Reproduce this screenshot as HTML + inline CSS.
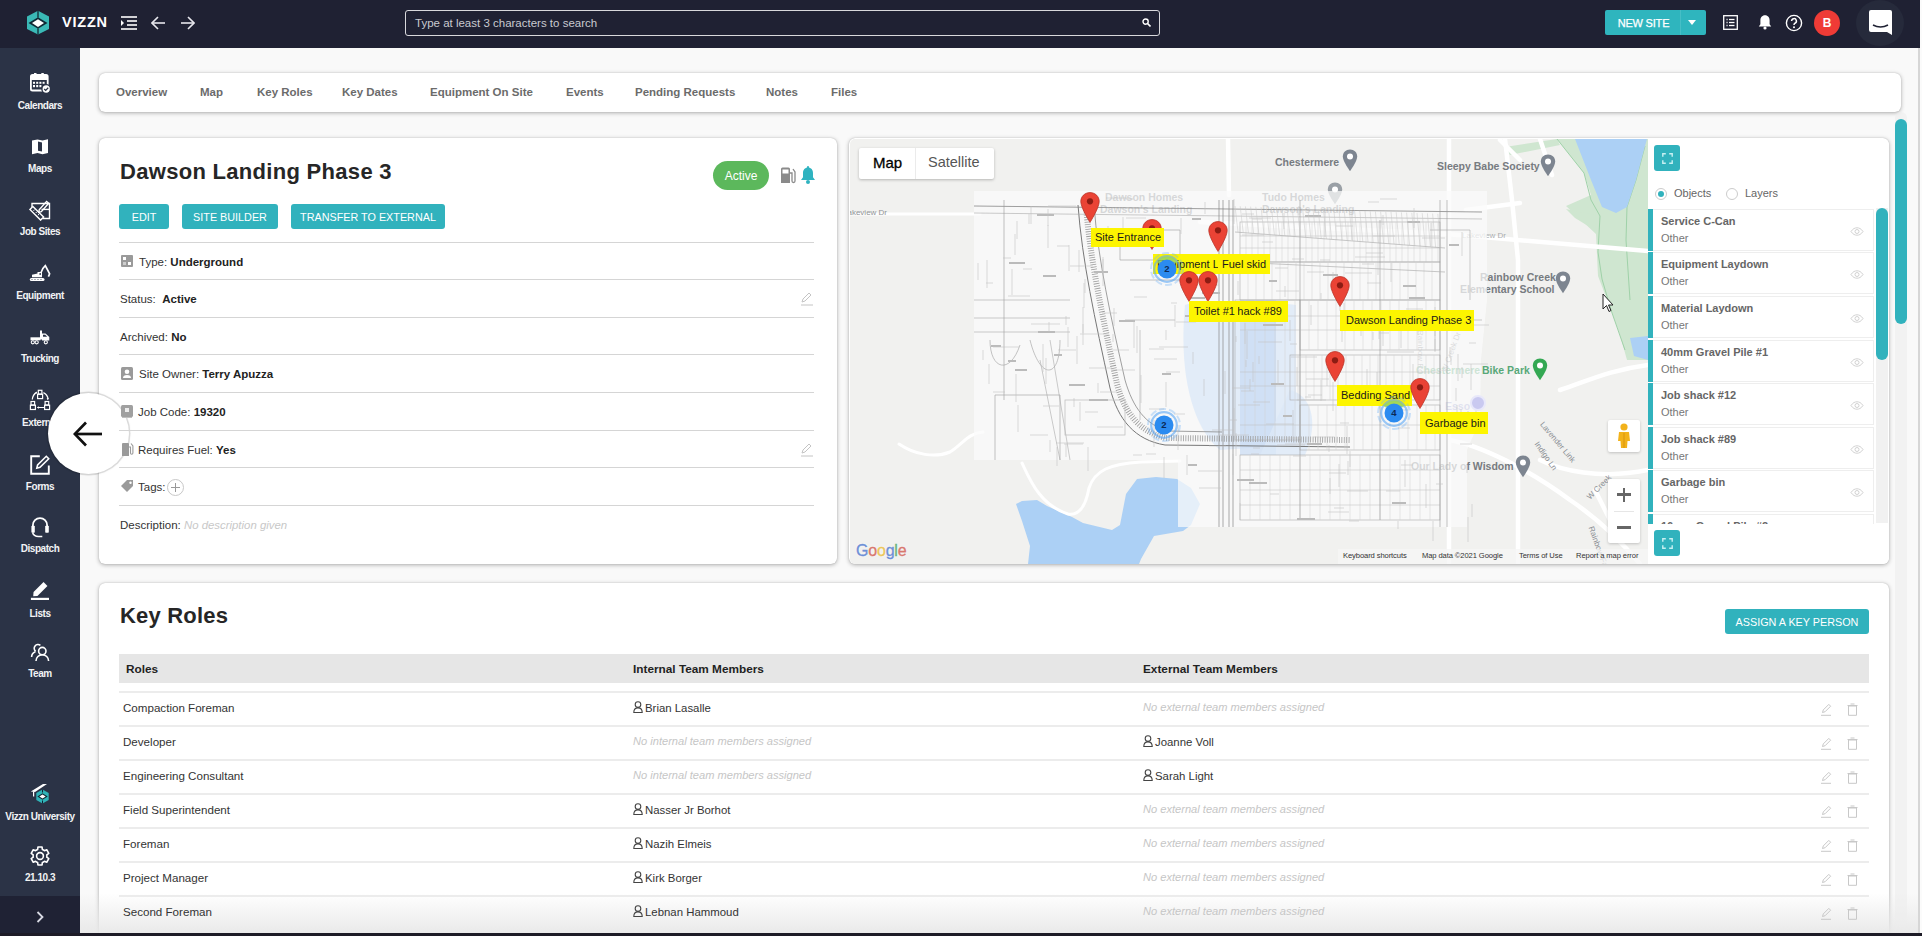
<!DOCTYPE html>
<html><head><meta charset="utf-8">
<style>
*{box-sizing:border-box;margin:0;padding:0}
html,body{width:1922px;height:936px;overflow:hidden;background:#f9f9f9;font-family:"Liberation Sans",sans-serif;color:#333}
.abs{position:absolute}
#top{position:absolute;left:0;top:0;width:1922px;height:48px;background:#1f2133}
#side{position:absolute;left:0;top:48px;width:80px;height:888px;background:#2b3346}
#sidebot{position:absolute;left:0;top:896px;width:80px;height:40px;background:#1f2234}
.sitem{position:absolute;left:0;width:80px;text-align:center;color:#f2f3f5;font-weight:bold;font-size:10px;letter-spacing:-0.45px}
.sitem svg{display:block;margin:0 auto}
.card{position:absolute;background:#fff;border-radius:6px;box-shadow:0 1px 4px rgba(0,0,0,.3),0 0 1px rgba(0,0,0,.25)}
.tab{position:absolute;top:86px;font-size:11.5px;font-weight:bold;color:#6b6b6b}
.btn{position:absolute;background:#31b2bd;color:#fff;font-size:11px;text-align:center;border-radius:3px;line-height:27px;height:25px;overflow:hidden}
.hr{position:absolute;left:119px;width:695px;height:1px;background:#d5d5d5}
.row{position:absolute;left:119px;font-size:11.5px;color:#333}
.row b{color:#222}
.ylab{background:#fdf500;font-size:11px;color:#1a1a1a;white-space:nowrap;overflow:hidden}
</style></head>
<body>
<div id="top">
  <!-- logo -->
  <svg class="abs" style="left:26px;top:10px" width="24" height="26" viewBox="0 0 24 26">
    <polygon points="12,0.8 23,6.5 23,19 12,24.6 1,19 1,6.5" fill="#3ab9b6"/>
    <path d="M12 0.8V7.5M12 18.4V24.6" stroke="#0f2a35" stroke-width="1.3"/>
    <polygon points="2.5,13 12,7.3 21.5,13 12,18.7" fill="#0f2a35"/>
    <polygon points="6,13 12,9.3 18,13 12,16.9" fill="#fff"/>
  </svg>
  <div class="abs" style="left:62px;top:14px;font-size:14.5px;font-weight:bold;color:#fff;letter-spacing:0.8px">VIZZN</div>
  <svg class="abs" style="left:121px;top:16px" width="16" height="14" viewBox="0 0 16 14" stroke="#fff" stroke-width="1.6" fill="none">
    <line x1="0" y1="1" x2="16" y2="1"/><line x1="6" y1="5" x2="16" y2="5"/><line x1="6" y1="9" x2="16" y2="9"/><line x1="0" y1="13" x2="16" y2="13"/>
    <polygon points="0,4 3,7 0,10" fill="#fff" stroke="none"/>
  </svg>
  <svg class="abs" style="left:151px;top:16px" width="15" height="14" viewBox="0 0 15 14" stroke="#e8e8ee" stroke-width="1.6" fill="none">
    <line x1="1" y1="7" x2="14" y2="7"/><polyline points="7,1 1,7 7,13"/>
  </svg>
  <svg class="abs" style="left:180px;top:16px" width="15" height="14" viewBox="0 0 15 14" stroke="#e8e8ee" stroke-width="1.6" fill="none">
    <line x1="1" y1="7" x2="14" y2="7"/><polyline points="8,1 14,7 8,13"/>
  </svg>
  <!-- search -->
  <div class="abs" style="left:405px;top:10px;width:755px;height:26px;border:1px solid #d8d8dc;border-radius:3px"></div>
  <div class="abs" style="left:415px;top:17px;font-size:11.5px;color:#c9cad0">Type at least 3 characters to search</div>
  <svg class="abs" style="left:1142px;top:18px" width="9" height="9" viewBox="0 0 9 9"><circle cx="3.6" cy="3.6" r="2.6" stroke="#fff" stroke-width="1.4" fill="none"/><line x1="5.5" y1="5.5" x2="8.5" y2="8.5" stroke="#fff" stroke-width="1.6"/></svg>
  <!-- new site -->
  <div class="abs" style="left:1605px;top:10px;width:101px;height:25px;background:#2fb5be;border-radius:2px"></div>
  <div class="abs" style="left:1680px;top:10px;width:1px;height:25px;background:#46bec6"></div>
  <div class="abs" style="left:1606px;top:17px;width:75px;text-align:center;font-size:11px;color:#fff;letter-spacing:-0.2px;-webkit-text-stroke:0.25px #fff">NEW SITE</div>
  <svg class="abs" style="left:1688px;top:20px" width="8" height="5"><polygon points="0,0 8,0 4,5" fill="#fff"/></svg>
  <!-- list icon -->
  <svg class="abs" style="left:1723px;top:15px" width="15" height="15" viewBox="0 0 15 15" fill="none" stroke="#fff" stroke-width="1.3">
    <rect x="0.7" y="0.7" width="13.6" height="13.6"/>
    <line x1="6" y1="4.5" x2="11.5" y2="4.5"/><line x1="6" y1="7.5" x2="11.5" y2="7.5"/><line x1="6" y1="10.5" x2="11.5" y2="10.5"/>
    <line x1="3.5" y1="4.5" x2="4.6" y2="4.5"/><line x1="3.5" y1="7.5" x2="4.6" y2="7.5"/><line x1="3.5" y1="10.5" x2="4.6" y2="10.5"/>
  </svg>
  <!-- bell -->
  <svg class="abs" style="left:1758px;top:14px" width="14" height="16" viewBox="0 0 14 16"><path d="M7 1.2c-3 0-4.6 2.4-4.6 5v4L0.8 12.5h12.4L11.6 10.2v-4c0-2.6-1.6-5-4.6-5z" fill="#fff"/><circle cx="7" cy="14" r="1.6" fill="#fff"/></svg>
  <!-- help -->
  <svg class="abs" style="left:1785px;top:14px" width="18" height="18" viewBox="0 0 18 18"><circle cx="9" cy="9" r="7.6" stroke="#fff" stroke-width="1.4" fill="none"/><path d="M6.6 7a2.4 2.4 0 1 1 3.4 2.2c-.8.4-1 .9-1 1.8" stroke="#fff" stroke-width="1.5" fill="none"/><circle cx="9" cy="13.3" r="1" fill="#fff"/></svg>
  <!-- avatar -->
  <div class="abs" style="left:1814px;top:10px;width:26px;height:26px;border-radius:50%;background:#ef3b36;color:#fff;font-size:12px;font-weight:bold;text-align:center;line-height:26px">B</div>
  <!-- chat -->
  <div class="abs" style="left:1856px;top:0px;width:48px;height:46px;border-radius:50%;background:#262a3b"></div>
  <svg class="abs" style="left:1869px;top:10px" width="23" height="25" viewBox="0 0 23 25"><path d="M2 0h19a2 2 0 0 1 2 2v23l-5-3H2a2 2 0 0 1-2-2V2a2 2 0 0 1 2-2z" fill="#fff"/><path d="M4 15q7.5 4 15 0" stroke="#1f2133" stroke-width="1.5" fill="none"/></svg>
</div>

<div id="side"></div>
<div id="sidebot"></div>

<!-- sidebar items -->
<svg class="abs" style="left:30px;top:72px" width="20" height="21" viewBox="0 0 20 21">
 <rect x="0.9" y="3" width="16.8" height="15.5" rx="1.6" fill="none" stroke="#fff" stroke-width="1.8"/>
 <rect x="0.9" y="3" width="16.8" height="5" rx="1" fill="#fff"/>
 <rect x="4" y="1" width="2.5" height="3" fill="#fff"/><rect x="11.3" y="1" width="2.5" height="3" fill="#fff"/>
 <g fill="#fff"><rect x="3" y="9.8" width="2" height="2"/><rect x="6.2" y="9.8" width="2" height="2"/><rect x="9.4" y="9.8" width="2" height="2"/><rect x="12.6" y="9.8" width="2" height="2"/><rect x="3" y="13" width="2" height="2.2"/><rect x="6.2" y="13" width="2" height="2.2"/><rect x="9.4" y="13" width="2" height="2.2"/></g>
 <circle cx="16.2" cy="17" r="4.3" fill="#fff" stroke="#2b3346" stroke-width="1.3"/>
 <polyline points="14.2,17 15.7,18.4 18.2,15.8" fill="none" stroke="#2b3346" stroke-width="1.3"/>
</svg>
<div class="sitem" style="top:100px">Calendars</div>
<svg class="abs" style="left:32px;top:139px" width="16" height="16" viewBox="0 0 16 16">
 <path d="M0 1.5L5.5 0.6 10.5 1.6 16 0.2V14L10.5 15.2 5.5 14 0 15.2Z" fill="#fff"/>
 <path d="M6 2.6L10 3.4V12.6L6 11.8Z" fill="#2b3346"/>
</svg>
<div class="sitem" style="top:163px">Maps</div>
<svg class="abs" style="left:29px;top:199px" width="22" height="22" viewBox="0 0 22 22" fill="none" stroke="#fff" stroke-width="1.4">
 <path d="M3 8.5V4.5h17.5v15H13.5"/>
 <path d="M0.9 10.4L3.9 7.4 14.6 18.1 11.6 21.1Z" fill="#2b3346"/>
 <path d="M4.5 11.8l1.2-1.2M6.7 14l1.2-1.2M8.9 16.2l1.2-1.2" stroke-width="1"/>
 <path d="M10.2 10.8L17.6 2.4 19.7 4.3 12.3 12.6 9.8 13.3Z"/>
 <path d="M12.5 10.4H20"/>
</svg>
<div class="sitem" style="top:226px">Job Sites</div>
<svg class="abs" style="left:29px;top:264px" width="22" height="18" viewBox="0 0 22 18">
 <rect x="0.8" y="13.9" width="14.7" height="3.2" rx="1.5" fill="#fff"/>
 <path d="M3 10.8L8.5 9.6V8H13V13.3H3Z" fill="#fff"/>
 <rect x="10.4" y="9.2" width="1.6" height="1.6" fill="#2b3346"/>
 <path d="M12 8.6C12.8 5.6 14 3.6 16.3 1.6L20.6 9.8 19.4 12.6" fill="none" stroke="#fff" stroke-width="1.7"/>
 <g fill="#2b3346"><circle cx="3" cy="15.5" r=".5"/><circle cx="6" cy="15.5" r=".5"/><circle cx="9" cy="15.5" r=".5"/><circle cx="12" cy="15.5" r=".5"/></g>
</svg>
<div class="sitem" style="top:290px">Equipment</div>
<svg class="abs" style="left:30px;top:330px" width="20" height="15" viewBox="0 0 20 15">
 <rect x="10" y="0.5" width="2" height="9" fill="#fff"/>
 <path d="M12 3.5h3.5l3.8 3.5v3.5H12z" fill="#fff"/>
 <path d="M13 4.8h2.2l2 2H13z" fill="#2b3346"/>
 <rect x="0.5" y="7.3" width="10" height="3" fill="#fff"/>
 <g fill="none" stroke="#fff" stroke-width="1.1"><circle cx="2.8" cy="12.3" r="1.6"/><circle cx="6.7" cy="12.3" r="1.6"/><circle cx="15.8" cy="12.3" r="1.6"/></g>
</svg>
<div class="sitem" style="top:353px">Trucking</div>
<svg class="abs" style="left:29px;top:389px" width="22" height="22" viewBox="0 0 22 22" fill="none" stroke="#fff" stroke-width="1.2">
 <rect x="9.3" y="1.3" width="3.6" height="3.8"/><rect x="8.6" y="5.3" width="5" height="4.3"/>
 <rect x="2" y="12.5" width="3.6" height="3.5"/><rect x="1.4" y="16.2" width="5" height="4.3"/>
 <rect x="16.1" y="12.5" width="3.6" height="3.5"/><rect x="15.6" y="16.2" width="5" height="4.3"/>
 <path d="M3.3 10.5Q3.8 5.5 7.6 3.4M14.4 3.6Q18.5 5.5 19.2 10.3M15 18.5H8.4"/>
 <path d="M7.8 2.4l0.3 2.2-2-0.4zM19.9 9.6l-1.7 1.3-0.4-2zM8 18.5l2-1.2v2.4z" fill="#fff" stroke="none"/>
</svg>
<div class="sitem" style="top:417px">External</div>
<svg class="abs" style="left:30px;top:455px" width="20" height="20" viewBox="0 0 20 20" fill="none" stroke="#fff" stroke-width="1.9">
 <path d="M9.8 1.2H1.2V18.8H18.8V10.4"/>
 <path d="M6.8 13.2L7.6 10 16.3 1.3 18.7 3.7 10 12.4Z" stroke-width="1.6"/>
</svg>
<div class="sitem" style="top:481px">Forms</div>
<svg class="abs" style="left:30px;top:516px" width="20" height="22" viewBox="0 0 20 22" fill="none" stroke="#fff">
 <path d="M2.9 11V9.2a7.1 7.1 0 0 1 14.2 0V11" stroke-width="1.8"/>
 <rect x="1.4" y="9.8" width="3.4" height="7" rx="0.8" fill="#fff" stroke="none"/>
 <rect x="15.2" y="9.8" width="3.6" height="7" rx="0.8" fill="#fff" stroke="none"/>
 <path d="M2.6 16.5Q3.6 20.4 8.5 20.4H12.3" stroke-width="1.5"/>
</svg>
<div class="sitem" style="top:543px">Dispatch</div>
<svg class="abs" style="left:30px;top:581px" width="20" height="20" viewBox="0 0 20 20">
 <path d="M13.56 1.06L17.44 4.94 7.44 14.94 3.2 15.3 3.56 11.06Z" fill="#fff"/>
 <rect x="0.9" y="16.8" width="18.1" height="2.2" fill="#fff"/>
</svg>
<div class="sitem" style="top:608px">Lists</div>
<svg class="abs" style="left:30px;top:642px" width="20" height="20" viewBox="0 0 20 20" fill="none" stroke="#fff" stroke-width="1.6">
 <circle cx="12.3" cy="9.1" r="3.7"/>
 <path d="M6 19a6.3 6.3 0 0 1 12.6 0"/>
 <path d="M10.4 3.4A3.6 3.6 0 1 0 5.6 9.3"/>
 <path d="M5.4 9.8A5.6 5.6 0 0 0 1.6 15"/>
</svg>
<div class="sitem" style="top:668px">Team</div>
<svg class="abs" style="left:30px;top:783px" width="20" height="21" viewBox="0 0 20 21">
 <polygon points="12.5,6.5 18.7,10 18.7,17 12.5,20.6 6.3,17 6.3,10" fill="#2fb3b7"/>
 <path d="M12.5 6.5V9.5M12.5 17.5V20.6" stroke="#123" stroke-width="1"/>
 <polygon points="7.3,13.5 12.5,10.3 17.7,13.5 12.5,16.7" fill="#0f2a35"/>
 <polygon points="9.3,13.5 12.5,11.6 15.7,13.5 12.5,15.4" fill="#fff"/>
 <polygon points="0.8,8.5 13,1 17,1 5,9" fill="#fff"/>
 <path d="M3.6 8.5v5" stroke="#fff" stroke-width="1.2"/>
</svg>
<div class="sitem" style="top:811px">Vizzn University</div>
<svg class="abs" style="left:30px;top:846px" width="20" height="20" viewBox="0 0 20 20" fill="none" stroke="#fff" stroke-width="1.6">
 <path d="M6.55 4.02 L7.64 3.52 L7.93 1.04 L12.07 1.04 L12.36 3.52 L13.45 4.02 L14.44 4.71 L16.73 3.73 L18.80 7.31 L16.80 8.80 L16.90 10.00 L16.80 11.20 L18.80 12.69 L16.73 16.27 L14.44 15.29 L13.45 15.98 L12.36 16.48 L12.07 18.96 L7.93 18.96 L7.64 16.48 L6.55 15.98 L5.56 15.29 L3.27 16.27 L1.20 12.69 L3.20 11.20 L3.10 10.00 L3.20 8.80 L1.20 7.31 L3.27 3.73 L5.56 4.71Z" stroke-linejoin="round"/>
 <circle cx="10" cy="10" r="3.4"/>
</svg>
<div class="sitem" style="top:872px">21.10.3</div>
<svg class="abs" style="left:36px;top:911px" width="8" height="12" viewBox="0 0 8 12"><polyline points="1.5,1 6.5,6 1.5,11" fill="none" stroke="#d8dae3" stroke-width="1.8"/></svg>

<!-- tabs card -->
<div class="card" style="left:99px;top:73px;width:1802px;height:39px"></div>
<div class="tab" style="left:116px">Overview</div>
<div class="tab" style="left:200px">Map</div>
<div class="tab" style="left:257px">Key Roles</div>
<div class="tab" style="left:342px">Key Dates</div>
<div class="tab" style="left:430px">Equipment On Site</div>
<div class="tab" style="left:566px">Events</div>
<div class="tab" style="left:635px">Pending Requests</div>
<div class="tab" style="left:766px">Notes</div>
<div class="tab" style="left:831px">Files</div>

<!-- left card -->
<div class="card" style="left:99px;top:138px;width:738px;height:426px"></div>
<!-- back circle -->
<div class="abs" style="left:48px;top:393px;width:81px;height:81px;border-radius:50%;background:#fff;box-shadow:0 0 0 1.5px rgba(0,0,0,.1),0 0 3px rgba(0,0,0,.15)"></div>
<svg class="abs" style="left:73px;top:421px" width="30" height="26" viewBox="0 0 30 26" fill="none" stroke="#111" stroke-width="2.7"><path d="M29 13H2"/><path d="M13 1.5L1.8 13 13 24.5"/></svg>

<!-- left card content -->
<div class="abs" style="left:120px;top:159px;font-size:22px;font-weight:bold;color:#262626;letter-spacing:0.3px">Dawson Landing Phase 3</div>
<div class="abs" style="left:713px;top:161px;width:56px;height:29px;border-radius:15px;background:#5cb85c;color:#fff;font-size:12px;text-align:center;line-height:31px">Active</div>
<svg class="abs" style="left:780px;top:167px" width="17" height="17" viewBox="0 0 17 17">
 <path d="M1 2a1.5 1.5 0 0 1 1.5-1.5h6A1.5 1.5 0 0 1 10 2v14H1z" fill="#8a8a8a"/>
 <rect x="2.5" y="2.5" width="6" height="4" fill="#fff"/>
 <path d="M10 6h2v8a1.5 1.5 0 0 0 3 0V5l-2-3" fill="none" stroke="#8a8a8a" stroke-width="1.3"/>
</svg>
<svg class="abs" style="left:800px;top:166px" width="16" height="19" viewBox="0 0 16 19">
 <path d="M8 1.5c-3.2 0-5 2.5-5 5.4v4.4L1 14h14l-2-2.7V6.9c0-2.9-1.8-5.4-5-5.4z" fill="#2fb3c0"/>
 <circle cx="8" cy="16" r="2" fill="#2fb3c0"/><rect x="7" y="0" width="2" height="2.5" rx="1" fill="#2fb3c0"/>
</svg>
<div class="btn" style="left:119px;top:204px;width:50px;font-size:10.8px">EDIT</div>
<div class="btn" style="left:182px;top:204px;width:96px;font-size:10.8px">SITE BUILDER</div>
<div class="btn" style="left:291px;top:204px;width:154px;font-size:10.8px">TRANSFER TO EXTERNAL</div>
<div class="hr" style="top:242px"></div>
<div class="hr" style="top:279px"></div>
<div class="hr" style="top:317px"></div>
<div class="hr" style="top:354px"></div>
<div class="hr" style="top:392px"></div>
<div class="hr" style="top:430px"></div>
<div class="hr" style="top:467px"></div>
<div class="hr" style="top:505px"></div>
<svg class="abs" style="left:121px;top:255px" width="12" height="12" viewBox="0 0 12 12"><rect width="12" height="12" rx="1" fill="#9a9a9a"/><rect x="2" y="2" width="3" height="3" fill="#fff"/><rect x="7" y="7" width="3" height="3" fill="#fff"/><rect x="2" y="7" width="3" height="3" fill="#fff" opacity=".5"/></svg>
<div class="row" style="left:139px;top:256px">Type: <b>Underground</b></div>
<div class="row" style="left:120px;top:293px">Status:&nbsp; <b>Active</b></div>
<svg class="abs" style="left:800px;top:292px" width="14" height="14" viewBox="0 0 14 14" fill="none" stroke="#c4c4c4" stroke-width="1"><path d="M2 10l1-3 6-6 2 2-6 6z"/><path d="M1 13h12"/></svg>
<div class="row" style="left:120px;top:331px">Archived: <b>No</b></div>
<svg class="abs" style="left:121px;top:367px" width="12" height="13" viewBox="0 0 12 13"><rect width="12" height="13" rx="1.5" fill="#9a9a9a"/><circle cx="6" cy="4.8" r="2.3" fill="#fff"/><path d="M2 11a4 3 0 0 1 8 0z" fill="#fff"/></svg>
<div class="row" style="left:139px;top:368px">Site Owner: <b>Terry Apuzza</b></div>
<svg class="abs" style="left:121px;top:405px" width="12" height="13" viewBox="0 0 12 13"><rect width="12" height="12" rx="1.5" fill="#a0a0a0"/><rect x="4" y="3" width="4" height="4" fill="#fff" opacity=".8"/><rect x="1" y="12" width="10" height="1" fill="#c0c0c0"/></svg>
<div class="row" style="left:138px;top:406px">Job Code: <b>19320</b></div>
<svg class="abs" style="left:121px;top:442px" width="13" height="14" viewBox="0 0 13 14"><path d="M1 2a1 1 0 0 1 1-1h5a1 1 0 0 1 1 1v12H1z" fill="#9a9a9a"/><path d="M8 5h1.5v6a1.2 1.2 0 0 0 2.4 0V4L10 1.5" fill="none" stroke="#9a9a9a" stroke-width="1.1"/></svg>
<div class="row" style="left:138px;top:444px">Requires Fuel: <b>Yes</b></div>
<svg class="abs" style="left:800px;top:443px" width="14" height="14" viewBox="0 0 14 14" fill="none" stroke="#c4c4c4" stroke-width="1"><path d="M2 10l1-3 6-6 2 2-6 6z"/><path d="M1 13h12"/></svg>
<svg class="abs" style="left:121px;top:480px" width="13" height="13" viewBox="0 0 13 13"><path d="M6 0h6v6l-6 6-6-6z" fill="#9a9a9a"/><circle cx="9.5" cy="2.8" r="1.2" fill="#fff"/></svg>
<div class="row" style="left:138px;top:481px">Tags:</div>
<div class="abs" style="left:167px;top:479px;width:17px;height:17px;border-radius:50%;border:1px solid #c8c8c8"></div>
<div class="abs" style="left:171px;top:487px;width:9px;height:1px;background:#999"></div>
<div class="abs" style="left:175px;top:483px;width:1px;height:9px;background:#999"></div>
<div class="row" style="left:120px;top:519px">Description: <i style="color:#c8c8c8;font-size:11.4px">No description given</i></div>
<!-- map card -->
<div class="card" style="left:849px;top:138px;width:1040px;height:426px;overflow:hidden"></div>
<div style="position:absolute;left:0;top:0;width:1922px;height:936px;clip-path:inset(139px 274px 372px 850px round 5px 0 0 5px)">
<svg class="abs" style="left:850px;top:139px" width="798" height="425" viewBox="850 139 798 425">
<rect x="850" y="139" width="798" height="425" fill="#f1f1ef"/>
<path d="M1505 147 L1557 139 L1560 145 L1510 155 Z" fill="#cfe6d0"/><path d="M1557 139 L1584 173 L1591 195 L1566 206 L1596 234 L1598 276 L1611 310 L1620 335 L1627 360 L1648 360 L1648 139 Z" fill="#cfe6d0"/>
<path d="M1566 209 L1600 216 L1598 232 L1575 218 Z" fill="#cfe6d0"/>
<path d="M1557 139 L1584 173 L1591 200 L1600 216 L1598 252 L1602 279 L1611 310 L1625 350" fill="none" stroke="#9fd1a8" stroke-width="1"/>
<path d="M1645 146 L1636 180 L1627 207 L1626 240 L1630 300" fill="none" stroke="#9fd1a8" stroke-width="1"/>
<path d="M1575 139 L1591 180 L1602 207 L1616 213 L1627 207 L1636 180 L1645 146 L1647 139 Z" fill="#acd0f5"/>
<path d="M1630 338 L1648 336 L1648 360 L1634 356 Z" fill="#acd0f5"/>
<path d="M1016 504 L1022 501 L1037 500 L1047 506 L1072 517 L1083 523 L1112 530 L1120 525 L1126 494 L1137 479 L1156 477 L1177 479 L1191 488 L1200 504 L1191 525 L1183 531 L1154 536 L1141 559 L1139 564 L1028 564 L1030 546 L1022 521 Z" fill="#acd0f5"/>
<path d="M850 214 L980 214" fill="none" stroke="#ffffff" stroke-width="3" stroke-linecap="round"/>
<path d="M1200 222 L1447 234 L1648 251" fill="none" stroke="#ffffff" stroke-width="4.5" stroke-linecap="round"/>
<path d="M1449 139 L1449 564" fill="none" stroke="#ffffff" stroke-width="4.5" stroke-linecap="round"/>
<path d="M1505 139 L1512 200 L1518 260 L1518 564" fill="none" stroke="#ffffff" stroke-width="4.5" stroke-linecap="round"/>
<path d="M1228 139 L1229 195" fill="none" stroke="#ffffff" stroke-width="4.5" stroke-linecap="round"/>
<path d="M899 444 C915 455 935 458 950 452 C962 445 968 433 983 432" fill="none" stroke="#ffffff" stroke-width="3" stroke-linecap="round"/>
<path d="M1022 463 C1030 480 1040 505 1068 514 C1080 516 1086 505 1089 488 C1095 470 1110 464 1141 462 L1180 461" fill="none" stroke="#ffffff" stroke-width="3" stroke-linecap="round"/>
<path d="M1449 440 C1480 445 1530 470 1570 500 C1600 520 1620 540 1640 564" fill="none" stroke="#ffffff" stroke-width="4.5" stroke-linecap="round"/>
<path d="M1500 140 L1520 160" fill="none" stroke="#ffffff" stroke-width="4.5" stroke-linecap="round"/>
<path d="M1540 139 L1552 175" fill="none" stroke="#ffffff" stroke-width="4.5" stroke-linecap="round"/>
<path d="M1466 210 L1520 203" fill="none" stroke="#ffffff" stroke-width="4.5" stroke-linecap="round"/>
<path d="M1560 390 C1590 380 1610 370 1648 365" fill="none" stroke="#ffffff" stroke-width="4.5" stroke-linecap="round"/>
<path d="M1540 460 C1560 470 1600 480 1648 470" fill="none" stroke="#ffffff" stroke-width="4.5" stroke-linecap="round"/>
<path d="M1595 490 L1620 540" fill="none" stroke="#ffffff" stroke-width="4.5" stroke-linecap="round"/>
</svg>
<div class="abs" style="left:1275px;top:155px;font-size:10.5px;font-weight:bold;color:#777b80;opacity:1;white-space:nowrap;line-height:14px">Chestermere</div>
<svg class="abs" style="left:1342px;top:149px" width="16" height="23" viewBox="0 0 16 23"><path d="M8 0.5C3.8 0.5 0.8 3.6 0.8 7.6c0 5 7.2 14.6 7.2 14.6s7.2-9.6 7.2-14.6C15.2 3.6 12.2 0.5 8 0.5z" fill="#7d8590"/><circle cx="8" cy="7.6" r="3" fill="#fff"/></svg>
<div class="abs" style="left:1437px;top:159px;font-size:10.5px;font-weight:bold;color:#777b80;opacity:1;white-space:nowrap;line-height:14px">Sleepy Babe Society</div>
<svg class="abs" style="left:1540px;top:154px" width="16" height="23" viewBox="0 0 16 23"><path d="M8 0.5C3.8 0.5 0.8 3.6 0.8 7.6c0 5 7.2 14.6 7.2 14.6s7.2-9.6 7.2-14.6C15.2 3.6 12.2 0.5 8 0.5z" fill="#7d8590"/><circle cx="8" cy="7.6" r="3" fill="#fff"/></svg>
<div class="abs" style="left:1262px;top:190px;font-size:10.5px;font-weight:bold;color:#777b80;opacity:1;white-space:nowrap;line-height:14px">Tudo Homes</div>
<div class="abs" style="left:1262px;top:202px;font-size:10.5px;font-weight:bold;color:#777b80;opacity:1;white-space:nowrap;line-height:14px">Dawson's Landing</div>
<div class="abs" style="left:1105px;top:190px;font-size:10.5px;font-weight:bold;color:#777b80;opacity:1;white-space:nowrap;line-height:14px">Dawson Homes</div>
<div class="abs" style="left:1100px;top:202px;font-size:10.5px;font-weight:bold;color:#777b80;opacity:1;white-space:nowrap;line-height:14px">Dawson's Landing</div>
<svg class="abs" style="left:1327px;top:182px" width="16" height="23" viewBox="0 0 16 23"><path d="M8 0.5C3.8 0.5 0.8 3.6 0.8 7.6c0 5 7.2 14.6 7.2 14.6s7.2-9.6 7.2-14.6C15.2 3.6 12.2 0.5 8 0.5z" fill="#9aa0a6"/><circle cx="8" cy="7.6" r="3" fill="#fff"/></svg>
<div class="abs" style="left:1480px;top:270px;font-size:10.5px;font-weight:bold;color:#777b80;opacity:1;white-space:nowrap;line-height:14px">Rainbow Creek</div>
<div class="abs" style="left:1460px;top:282px;font-size:10.5px;font-weight:bold;color:#777b80;opacity:1;white-space:nowrap;line-height:14px">Elementary School</div>
<svg class="abs" style="left:1555px;top:271px" width="16" height="23" viewBox="0 0 16 23"><path d="M8 0.5C3.8 0.5 0.8 3.6 0.8 7.6c0 5 7.2 14.6 7.2 14.6s7.2-9.6 7.2-14.6C15.2 3.6 12.2 0.5 8 0.5z" fill="#7d8590"/><circle cx="8" cy="7.6" r="3" fill="#fff"/></svg>
<div class="abs" style="left:1416px;top:363px;font-size:10.5px;font-weight:bold;color:#58a878;opacity:1;white-space:nowrap;line-height:14px">Chestermere</div>
<div class="abs" style="left:1482px;top:363px;font-size:10.5px;font-weight:bold;color:#58a878;opacity:1;white-space:nowrap;line-height:14px">Bike Park</div>
<svg class="abs" style="left:1532px;top:358px" width="16" height="23" viewBox="0 0 16 23"><path d="M8 0.5C3.8 0.5 0.8 3.6 0.8 7.6c0 5 7.2 14.6 7.2 14.6s7.2-9.6 7.2-14.6C15.2 3.6 12.2 0.5 8 0.5z" fill="#34a853"/><circle cx="8" cy="7.6" r="3" fill="#fff"/></svg>
<div class="abs" style="left:1445px;top:399px;font-size:10.5px;font-weight:bold;color:#9a9fd0;opacity:1;white-space:nowrap;line-height:14px">Esso</div>
<div class="abs" style="left:1411px;top:459px;font-size:10.5px;font-weight:bold;color:#777b80;opacity:1;white-space:nowrap;line-height:14px">Our Lady of Wisdom</div>
<svg class="abs" style="left:1515px;top:455px" width="16" height="23" viewBox="0 0 16 23"><path d="M8 0.5C3.8 0.5 0.8 3.6 0.8 7.6c0 5 7.2 14.6 7.2 14.6s7.2-9.6 7.2-14.6C15.2 3.6 12.2 0.5 8 0.5z" fill="#7d8590"/><circle cx="8" cy="7.6" r="3" fill="#fff"/></svg>
<div class="abs" style="left:843px;top:206px;font-size:8px;font-weight:normal;color:#777b80;opacity:0.8;white-space:nowrap;line-height:14px">Lakeview Dr</div>
<div class="abs" style="left:1462px;top:229px;font-size:8px;font-weight:normal;color:#777b80;opacity:0.6;white-space:nowrap;line-height:14px">Lakeview Dr</div>
<div class="abs" style="left:1440px;top:370px;font-size:8px;color:#8a8e93;transform:rotate(-70deg);transform-origin:0 0;white-space:nowrap">W Creek Dr</div>
<div class="abs" style="left:1545px;top:420px;font-size:8px;color:#8a8e93;transform:rotate(50deg);transform-origin:0 0;white-space:nowrap">Lavender Link</div>
<div class="abs" style="left:1540px;top:440px;font-size:8px;color:#8a8e93;transform:rotate(55deg);transform-origin:0 0;white-space:nowrap">Indigo Ln</div>
<div class="abs" style="left:1585px;top:495px;font-size:8px;color:#8a8e93;transform:rotate(-45deg);transform-origin:0 0;white-space:nowrap">W Creek</div>
<div class="abs" style="left:1595px;top:525px;font-size:8px;color:#8a8e93;transform:rotate(70deg);transform-origin:0 0;white-space:nowrap">Rainbow Fa</div>
<div class="abs" style="left:1425px;top:330px;font-size:8px;color:#8a8e93;transform:rotate(90deg);transform-origin:0 0;white-space:nowrap">Rainbow Rd</div>
<svg class="abs" style="left:850px;top:139px" width="798" height="425" viewBox="850 139 798 425">
<path d="M974 191 L1487 191 L1487 300 L1481 360 L1480 420 L1467 450 L1467 527 L1178 527 L1178 460 L974 460 Z" fill="#fbfbfb" opacity="0.72"/>
<path d="M1185 305 C1200 300 1260 300 1296 305 L1296 445 L1220 450 C1195 430 1178 380 1185 305 Z" fill="#dce8f7" opacity="0.8"/>
<rect x="1240" y="300" width="36" height="155" fill="#c9dcf3" opacity="0.7"/>
<path d="M1290 390 C1310 395 1320 420 1305 455 L1260 455 Z" fill="#dce8f7" opacity="0.8"/>
<g><path d="M1078 205 C1082 260 1095 320 1110 388 C1118 420 1135 440 1165 445 L1350 447" fill="none" stroke="#777" stroke-width="1"/><path d="M1086 205 C1090 260 1103 318 1117 384 C1125 414 1140 432 1166 438 L1350 440" fill="none" stroke="#9a9a9a" stroke-width="6" stroke-dasharray="0.8 1.6"/><path d="M1094 205 C1098 260 1111 318 1125 380 C1133 408 1146 425 1168 431 L1222 432" fill="none" stroke="#888" stroke-width="0.8"/><path d="M974 206 L1482 212" stroke="#888" stroke-width="0.8"/><path d="M974 213 L1482 219" stroke="#aaa" stroke-width="0.6"/><path d="M1219 200 L1219 527" stroke="#888" stroke-width="0.7"/><path d="M1223 200 L1223 527" stroke="#888" stroke-width="0.7"/><path d="M1229 200 L1229 527" stroke="#888" stroke-width="0.7"/><path d="M1233 200 L1233 527" stroke="#888" stroke-width="0.7"/><path d="M1004 200 L1004 400" stroke="#999" stroke-width="0.6"/><path d="M974 300 L1070 300 M974 318 L1070 318 M974 332 L1070 332" stroke="#aaa" stroke-width="0.6"/><path d="M990 340 C990 370 1010 375 1020 345 M1030 340 C1040 380 1060 380 1060 340" fill="none" stroke="#aaa" stroke-width="0.7"/><path d="M1050 340 L1070 460 M1040 360 L1060 460" stroke="#aaa" stroke-width="0.6"/><path d="M995 395 L1060 395 L1060 460 M995 395 L995 460" fill="none" stroke="#aaa" stroke-width="0.7"/><rect x="1065" y="400" width="60" height="35" fill="none" stroke="#bbb" stroke-width="0.7"/><path d="M1120 230 L1180 230 L1180 260 L1120 260 Z M1130 280 L1200 280" fill="none" stroke="#aaa" stroke-width="0.7"/><path d="M1125 320 L1175 320 M1140 330 L1140 420" stroke="#aaa" stroke-width="0.6"/><rect x="1240" y="222" width="200" height="40" fill="none" stroke="#aaa" stroke-width="0.6"/><path d="M1246.0 222 L1246.0 262" stroke="#d0d0d0" stroke-width="0.5"/><path d="M1252.0 222 L1252.0 262" stroke="#d0d0d0" stroke-width="0.5"/><path d="M1258.0 222 L1258.0 262" stroke="#d0d0d0" stroke-width="0.5"/><path d="M1264.0 222 L1264.0 262" stroke="#d0d0d0" stroke-width="0.5"/><path d="M1270.0 222 L1270.0 262" stroke="#d0d0d0" stroke-width="0.5"/><path d="M1276.0 222 L1276.0 262" stroke="#d0d0d0" stroke-width="0.5"/><path d="M1282.0 222 L1282.0 262" stroke="#d0d0d0" stroke-width="0.5"/><path d="M1288.0 222 L1288.0 262" stroke="#d0d0d0" stroke-width="0.5"/><path d="M1294.0 222 L1294.0 262" stroke="#d0d0d0" stroke-width="0.5"/><path d="M1300.0 222 L1300.0 262" stroke="#d0d0d0" stroke-width="0.5"/><path d="M1306.0 222 L1306.0 262" stroke="#d0d0d0" stroke-width="0.5"/><path d="M1312.0 222 L1312.0 262" stroke="#d0d0d0" stroke-width="0.5"/><path d="M1318.0 222 L1318.0 262" stroke="#d0d0d0" stroke-width="0.5"/><path d="M1324.0 222 L1324.0 262" stroke="#d0d0d0" stroke-width="0.5"/><path d="M1330.0 222 L1330.0 262" stroke="#d0d0d0" stroke-width="0.5"/><path d="M1336.0 222 L1336.0 262" stroke="#d0d0d0" stroke-width="0.5"/><path d="M1342.0 222 L1342.0 262" stroke="#d0d0d0" stroke-width="0.5"/><path d="M1348.0 222 L1348.0 262" stroke="#d0d0d0" stroke-width="0.5"/><path d="M1354.0 222 L1354.0 262" stroke="#d0d0d0" stroke-width="0.5"/><path d="M1360.0 222 L1360.0 262" stroke="#d0d0d0" stroke-width="0.5"/><path d="M1366.0 222 L1366.0 262" stroke="#d0d0d0" stroke-width="0.5"/><path d="M1372.0 222 L1372.0 262" stroke="#d0d0d0" stroke-width="0.5"/><path d="M1378.0 222 L1378.0 262" stroke="#d0d0d0" stroke-width="0.5"/><path d="M1384.0 222 L1384.0 262" stroke="#d0d0d0" stroke-width="0.5"/><path d="M1390.0 222 L1390.0 262" stroke="#d0d0d0" stroke-width="0.5"/><path d="M1396.0 222 L1396.0 262" stroke="#d0d0d0" stroke-width="0.5"/><path d="M1402.0 222 L1402.0 262" stroke="#d0d0d0" stroke-width="0.5"/><path d="M1408.0 222 L1408.0 262" stroke="#d0d0d0" stroke-width="0.5"/><path d="M1414.0 222 L1414.0 262" stroke="#d0d0d0" stroke-width="0.5"/><path d="M1420.0 222 L1420.0 262" stroke="#d0d0d0" stroke-width="0.5"/><path d="M1426.0 222 L1426.0 262" stroke="#d0d0d0" stroke-width="0.5"/><path d="M1432.0 222 L1432.0 262" stroke="#d0d0d0" stroke-width="0.5"/><path d="M1438.0 222 L1438.0 262" stroke="#d0d0d0" stroke-width="0.5"/><rect x="1240" y="262" width="200" height="38" fill="none" stroke="#aaa" stroke-width="0.6"/><path d="M1248.0 262 L1248.0 300" stroke="#d0d0d0" stroke-width="0.5"/><path d="M1256.0 262 L1256.0 300" stroke="#d0d0d0" stroke-width="0.5"/><path d="M1264.0 262 L1264.0 300" stroke="#d0d0d0" stroke-width="0.5"/><path d="M1272.0 262 L1272.0 300" stroke="#d0d0d0" stroke-width="0.5"/><path d="M1280.0 262 L1280.0 300" stroke="#d0d0d0" stroke-width="0.5"/><path d="M1288.0 262 L1288.0 300" stroke="#d0d0d0" stroke-width="0.5"/><path d="M1296.0 262 L1296.0 300" stroke="#d0d0d0" stroke-width="0.5"/><path d="M1304.0 262 L1304.0 300" stroke="#d0d0d0" stroke-width="0.5"/><path d="M1312.0 262 L1312.0 300" stroke="#d0d0d0" stroke-width="0.5"/><path d="M1320.0 262 L1320.0 300" stroke="#d0d0d0" stroke-width="0.5"/><path d="M1328.0 262 L1328.0 300" stroke="#d0d0d0" stroke-width="0.5"/><path d="M1336.0 262 L1336.0 300" stroke="#d0d0d0" stroke-width="0.5"/><path d="M1344.0 262 L1344.0 300" stroke="#d0d0d0" stroke-width="0.5"/><path d="M1352.0 262 L1352.0 300" stroke="#d0d0d0" stroke-width="0.5"/><path d="M1360.0 262 L1360.0 300" stroke="#d0d0d0" stroke-width="0.5"/><path d="M1368.0 262 L1368.0 300" stroke="#d0d0d0" stroke-width="0.5"/><path d="M1376.0 262 L1376.0 300" stroke="#d0d0d0" stroke-width="0.5"/><path d="M1384.0 262 L1384.0 300" stroke="#d0d0d0" stroke-width="0.5"/><path d="M1392.0 262 L1392.0 300" stroke="#d0d0d0" stroke-width="0.5"/><path d="M1400.0 262 L1400.0 300" stroke="#d0d0d0" stroke-width="0.5"/><path d="M1408.0 262 L1408.0 300" stroke="#d0d0d0" stroke-width="0.5"/><path d="M1416.0 262 L1416.0 300" stroke="#d0d0d0" stroke-width="0.5"/><path d="M1424.0 262 L1424.0 300" stroke="#d0d0d0" stroke-width="0.5"/><path d="M1432.0 262 L1432.0 300" stroke="#d0d0d0" stroke-width="0.5"/><rect x="1300" y="300" width="140" height="50" fill="none" stroke="#aaa" stroke-width="0.6"/><path d="M1309.0 300 L1309.0 350" stroke="#d0d0d0" stroke-width="0.5"/><path d="M1318.0 300 L1318.0 350" stroke="#d0d0d0" stroke-width="0.5"/><path d="M1327.0 300 L1327.0 350" stroke="#d0d0d0" stroke-width="0.5"/><path d="M1336.0 300 L1336.0 350" stroke="#d0d0d0" stroke-width="0.5"/><path d="M1345.0 300 L1345.0 350" stroke="#d0d0d0" stroke-width="0.5"/><path d="M1354.0 300 L1354.0 350" stroke="#d0d0d0" stroke-width="0.5"/><path d="M1363.0 300 L1363.0 350" stroke="#d0d0d0" stroke-width="0.5"/><path d="M1372.0 300 L1372.0 350" stroke="#d0d0d0" stroke-width="0.5"/><path d="M1381.0 300 L1381.0 350" stroke="#d0d0d0" stroke-width="0.5"/><path d="M1390.0 300 L1390.0 350" stroke="#d0d0d0" stroke-width="0.5"/><path d="M1399.0 300 L1399.0 350" stroke="#d0d0d0" stroke-width="0.5"/><path d="M1408.0 300 L1408.0 350" stroke="#d0d0d0" stroke-width="0.5"/><path d="M1417.0 300 L1417.0 350" stroke="#d0d0d0" stroke-width="0.5"/><path d="M1426.0 300 L1426.0 350" stroke="#d0d0d0" stroke-width="0.5"/><path d="M1435.0 300 L1435.0 350" stroke="#d0d0d0" stroke-width="0.5"/><rect x="1290" y="355" width="150" height="45" fill="none" stroke="#aaa" stroke-width="0.6"/><path d="M1298.0 355 L1298.0 400" stroke="#d0d0d0" stroke-width="0.5"/><path d="M1306.0 355 L1306.0 400" stroke="#d0d0d0" stroke-width="0.5"/><path d="M1314.0 355 L1314.0 400" stroke="#d0d0d0" stroke-width="0.5"/><path d="M1322.0 355 L1322.0 400" stroke="#d0d0d0" stroke-width="0.5"/><path d="M1330.0 355 L1330.0 400" stroke="#d0d0d0" stroke-width="0.5"/><path d="M1338.0 355 L1338.0 400" stroke="#d0d0d0" stroke-width="0.5"/><path d="M1346.0 355 L1346.0 400" stroke="#d0d0d0" stroke-width="0.5"/><path d="M1354.0 355 L1354.0 400" stroke="#d0d0d0" stroke-width="0.5"/><path d="M1362.0 355 L1362.0 400" stroke="#d0d0d0" stroke-width="0.5"/><path d="M1370.0 355 L1370.0 400" stroke="#d0d0d0" stroke-width="0.5"/><path d="M1378.0 355 L1378.0 400" stroke="#d0d0d0" stroke-width="0.5"/><path d="M1386.0 355 L1386.0 400" stroke="#d0d0d0" stroke-width="0.5"/><path d="M1394.0 355 L1394.0 400" stroke="#d0d0d0" stroke-width="0.5"/><path d="M1402.0 355 L1402.0 400" stroke="#d0d0d0" stroke-width="0.5"/><path d="M1410.0 355 L1410.0 400" stroke="#d0d0d0" stroke-width="0.5"/><path d="M1418.0 355 L1418.0 400" stroke="#d0d0d0" stroke-width="0.5"/><path d="M1426.0 355 L1426.0 400" stroke="#d0d0d0" stroke-width="0.5"/><path d="M1434.0 355 L1434.0 400" stroke="#d0d0d0" stroke-width="0.5"/><rect x="1235" y="300" width="65" height="140" fill="none" stroke="#aaa" stroke-width="0.6"/><path d="M1245.0 300 L1245.0 440" stroke="#d0d0d0" stroke-width="0.5"/><path d="M1255.0 300 L1255.0 440" stroke="#d0d0d0" stroke-width="0.5"/><path d="M1265.0 300 L1265.0 440" stroke="#d0d0d0" stroke-width="0.5"/><path d="M1275.0 300 L1275.0 440" stroke="#d0d0d0" stroke-width="0.5"/><path d="M1285.0 300 L1285.0 440" stroke="#d0d0d0" stroke-width="0.5"/><path d="M1295.0 300 L1295.0 440" stroke="#d0d0d0" stroke-width="0.5"/><rect x="1300" y="405" width="140" height="45" fill="none" stroke="#aaa" stroke-width="0.6"/><path d="M1309.0 405 L1309.0 450" stroke="#d0d0d0" stroke-width="0.5"/><path d="M1318.0 405 L1318.0 450" stroke="#d0d0d0" stroke-width="0.5"/><path d="M1327.0 405 L1327.0 450" stroke="#d0d0d0" stroke-width="0.5"/><path d="M1336.0 405 L1336.0 450" stroke="#d0d0d0" stroke-width="0.5"/><path d="M1345.0 405 L1345.0 450" stroke="#d0d0d0" stroke-width="0.5"/><path d="M1354.0 405 L1354.0 450" stroke="#d0d0d0" stroke-width="0.5"/><path d="M1363.0 405 L1363.0 450" stroke="#d0d0d0" stroke-width="0.5"/><path d="M1372.0 405 L1372.0 450" stroke="#d0d0d0" stroke-width="0.5"/><path d="M1381.0 405 L1381.0 450" stroke="#d0d0d0" stroke-width="0.5"/><path d="M1390.0 405 L1390.0 450" stroke="#d0d0d0" stroke-width="0.5"/><path d="M1399.0 405 L1399.0 450" stroke="#d0d0d0" stroke-width="0.5"/><path d="M1408.0 405 L1408.0 450" stroke="#d0d0d0" stroke-width="0.5"/><path d="M1417.0 405 L1417.0 450" stroke="#d0d0d0" stroke-width="0.5"/><path d="M1426.0 405 L1426.0 450" stroke="#d0d0d0" stroke-width="0.5"/><path d="M1435.0 405 L1435.0 450" stroke="#d0d0d0" stroke-width="0.5"/><rect x="1240" y="455" width="200" height="65" fill="none" stroke="#aaa" stroke-width="0.6"/><path d="M1250.0 455 L1250.0 520" stroke="#d0d0d0" stroke-width="0.5"/><path d="M1260.0 455 L1260.0 520" stroke="#d0d0d0" stroke-width="0.5"/><path d="M1270.0 455 L1270.0 520" stroke="#d0d0d0" stroke-width="0.5"/><path d="M1280.0 455 L1280.0 520" stroke="#d0d0d0" stroke-width="0.5"/><path d="M1290.0 455 L1290.0 520" stroke="#d0d0d0" stroke-width="0.5"/><path d="M1300.0 455 L1300.0 520" stroke="#d0d0d0" stroke-width="0.5"/><path d="M1310.0 455 L1310.0 520" stroke="#d0d0d0" stroke-width="0.5"/><path d="M1320.0 455 L1320.0 520" stroke="#d0d0d0" stroke-width="0.5"/><path d="M1330.0 455 L1330.0 520" stroke="#d0d0d0" stroke-width="0.5"/><path d="M1340.0 455 L1340.0 520" stroke="#d0d0d0" stroke-width="0.5"/><path d="M1350.0 455 L1350.0 520" stroke="#d0d0d0" stroke-width="0.5"/><path d="M1360.0 455 L1360.0 520" stroke="#d0d0d0" stroke-width="0.5"/><path d="M1370.0 455 L1370.0 520" stroke="#d0d0d0" stroke-width="0.5"/><path d="M1380.0 455 L1380.0 520" stroke="#d0d0d0" stroke-width="0.5"/><path d="M1390.0 455 L1390.0 520" stroke="#d0d0d0" stroke-width="0.5"/><path d="M1400.0 455 L1400.0 520" stroke="#d0d0d0" stroke-width="0.5"/><path d="M1410.0 455 L1410.0 520" stroke="#d0d0d0" stroke-width="0.5"/><path d="M1420.0 455 L1420.0 520" stroke="#d0d0d0" stroke-width="0.5"/><path d="M1430.0 455 L1430.0 520" stroke="#d0d0d0" stroke-width="0.5"/><path d="M1240 236 L1440 236" stroke="#bdbdbd" stroke-width="0.5"/><path d="M1240 248 L1440 248" stroke="#bdbdbd" stroke-width="0.5"/><path d="M1240 316 L1440 316" stroke="#bdbdbd" stroke-width="0.5"/><path d="M1240 330 L1440 330" stroke="#bdbdbd" stroke-width="0.5"/><path d="M1240 372 L1440 372" stroke="#bdbdbd" stroke-width="0.5"/><path d="M1240 386 L1440 386" stroke="#bdbdbd" stroke-width="0.5"/><path d="M1240 425 L1440 425" stroke="#bdbdbd" stroke-width="0.5"/><path d="M1240 470 L1440 470" stroke="#bdbdbd" stroke-width="0.5"/><path d="M1240 490 L1440 490" stroke="#bdbdbd" stroke-width="0.5"/><path d="M1240 505 L1440 505" stroke="#bdbdbd" stroke-width="0.5"/><path d="M1300 200 L1300 520 M1380 220 L1380 520 M1440 200 L1440 527 M1447 200 L1447 527" stroke="#999" stroke-width="0.6"/><path d="M1430 230 L1470 230 L1470 300 M1460 320 L1482 320" fill="none" stroke="#aaa" stroke-width="0.6"/><rect x="1139" y="244" width="16" height="2" fill="#bbb"/><rect x="1015" y="369" width="12" height="2" fill="#bbb"/><rect x="1008" y="360" width="8" height="2" fill="#bbb"/><rect x="1192" y="218" width="9" height="2" fill="#bbb"/><rect x="1188" y="464" width="9" height="2" fill="#bbb"/><rect x="1089" y="399" width="19" height="2" fill="#bbb"/><rect x="1263" y="324" width="20" height="2" fill="#bbb"/><rect x="1122" y="242" width="9" height="2" fill="#bbb"/><rect x="1069" y="384" width="16" height="2" fill="#bbb"/><rect x="1162" y="373" width="9" height="2" fill="#bbb"/><rect x="1009" y="262" width="16" height="2" fill="#bbb"/><rect x="1190" y="297" width="15" height="2" fill="#bbb"/><rect x="1202" y="292" width="18" height="2" fill="#bbb"/><rect x="1323" y="274" width="15" height="2" fill="#bbb"/><rect x="1237" y="479" width="17" height="2" fill="#bbb"/><rect x="1038" y="331" width="17" height="2" fill="#bbb"/><rect x="1054" y="354" width="8" height="2" fill="#bbb"/><rect x="1307" y="443" width="15" height="2" fill="#bbb"/><rect x="1409" y="297" width="16" height="2" fill="#bbb"/><rect x="1271" y="383" width="13" height="2" fill="#bbb"/><rect x="1392" y="502" width="14" height="2" fill="#bbb"/><rect x="1305" y="215" width="16" height="2" fill="#bbb"/><rect x="1297" y="518" width="18" height="2" fill="#bbb"/><rect x="1119" y="320" width="16" height="2" fill="#bbb"/><rect x="991" y="345" width="10" height="2" fill="#bbb"/><rect x="1037" y="214" width="17" height="2" fill="#bbb"/><rect x="1043" y="275" width="13" height="2" fill="#bbb"/><rect x="1407" y="221" width="13" height="2" fill="#bbb"/><rect x="1249" y="482" width="18" height="2" fill="#bbb"/><rect x="1403" y="285" width="13" height="2" fill="#bbb"/><rect x="1449" y="244" width="10" height="2" fill="#bbb"/><rect x="1094" y="271" width="14" height="2" fill="#bbb"/><rect x="1269" y="280" width="8" height="2" fill="#bbb"/><rect x="1185" y="315" width="15" height="2" fill="#bbb"/><rect x="1447" y="419" width="14" height="2" fill="#bbb"/><rect x="1283" y="415" width="9" height="2" fill="#bbb"/><path d="M1204 379v17" stroke="#c2c2c2" stroke-width="0.6"/><path d="M1232 388h18" stroke="#c2c2c2" stroke-width="0.6"/><path d="M1293 456h13" stroke="#c2c2c2" stroke-width="0.6"/><path d="M1325 208v29" stroke="#c2c2c2" stroke-width="0.6"/><path d="M1305 397h6" stroke="#c2c2c2" stroke-width="0.6"/><path d="M1242 214h12" stroke="#c2c2c2" stroke-width="0.6"/><path d="M993 347h26" stroke="#c2c2c2" stroke-width="0.6"/><path d="M1238 405h22" stroke="#c2c2c2" stroke-width="0.6"/><path d="M1207 286v30" stroke="#c2c2c2" stroke-width="0.6"/><path d="M1398 428h12" stroke="#c2c2c2" stroke-width="0.6"/><path d="M1123 217v16" stroke="#c2c2c2" stroke-width="0.6"/><path d="M1401 322v26" stroke="#c2c2c2" stroke-width="0.6"/><path d="M978 263v17" stroke="#c2c2c2" stroke-width="0.6"/><path d="M1468 325h21" stroke="#c2c2c2" stroke-width="0.6"/><path d="M1367 283h14" stroke="#c2c2c2" stroke-width="0.6"/><path d="M1460 444h12" stroke="#c2c2c2" stroke-width="0.6"/><path d="M1029 214v10" stroke="#c2c2c2" stroke-width="0.6"/><path d="M1258 342h24" stroke="#c2c2c2" stroke-width="0.6"/><path d="M1043 406h16" stroke="#c2c2c2" stroke-width="0.6"/><path d="M1084 283v25" stroke="#c2c2c2" stroke-width="0.6"/><path d="M1083 324v21" stroke="#c2c2c2" stroke-width="0.6"/><path d="M1085 279v14" stroke="#c2c2c2" stroke-width="0.6"/><path d="M1126 218h20" stroke="#c2c2c2" stroke-width="0.6"/><path d="M1100 392h17" stroke="#c2c2c2" stroke-width="0.6"/><path d="M1458 354v27" stroke="#c2c2c2" stroke-width="0.6"/><path d="M1069 245v26" stroke="#c2c2c2" stroke-width="0.6"/><path d="M1103 257v29" stroke="#c2c2c2" stroke-width="0.6"/><path d="M1419 393h8" stroke="#c2c2c2" stroke-width="0.6"/><path d="M1097 427h26" stroke="#c2c2c2" stroke-width="0.6"/><path d="M1276 291h23" stroke="#c2c2c2" stroke-width="0.6"/><path d="M1012 269v26" stroke="#c2c2c2" stroke-width="0.6"/><path d="M1285 286v11" stroke="#c2c2c2" stroke-width="0.6"/><path d="M986 283h7" stroke="#c2c2c2" stroke-width="0.6"/><path d="M1066 316v9" stroke="#c2c2c2" stroke-width="0.6"/><path d="M1468 411v20" stroke="#c2c2c2" stroke-width="0.6"/><path d="M1048 206h28" stroke="#c2c2c2" stroke-width="0.6"/><path d="M1328 512h21" stroke="#c2c2c2" stroke-width="0.6"/><path d="M1219 435h30" stroke="#c2c2c2" stroke-width="0.6"/><path d="M1016 374v28" stroke="#c2c2c2" stroke-width="0.6"/><path d="M1347 426v28" stroke="#c2c2c2" stroke-width="0.6"/><path d="M1154 420v27" stroke="#c2c2c2" stroke-width="0.6"/><path d="M1187 455v20" stroke="#c2c2c2" stroke-width="0.6"/><path d="M1290 320v21" stroke="#c2c2c2" stroke-width="0.6"/><path d="M1018 405v27" stroke="#c2c2c2" stroke-width="0.6"/><path d="M1342 322v20" stroke="#c2c2c2" stroke-width="0.6"/><path d="M1198 471h24" stroke="#c2c2c2" stroke-width="0.6"/><path d="M993 392h12" stroke="#c2c2c2" stroke-width="0.6"/><path d="M1327 358v28" stroke="#c2c2c2" stroke-width="0.6"/><path d="M1106 198h22" stroke="#c2c2c2" stroke-width="0.6"/><path d="M1079 250v22" stroke="#c2c2c2" stroke-width="0.6"/><path d="M1199 488h22" stroke="#c2c2c2" stroke-width="0.6"/><path d="M1077 336v28" stroke="#c2c2c2" stroke-width="0.6"/><path d="M1418 321v14" stroke="#c2c2c2" stroke-width="0.6"/><path d="M1046 358v26" stroke="#c2c2c2" stroke-width="0.6"/><path d="M1334 508h10" stroke="#c2c2c2" stroke-width="0.6"/><path d="M1203 285h16" stroke="#c2c2c2" stroke-width="0.6"/><path d="M1291 357h26" stroke="#c2c2c2" stroke-width="0.6"/><path d="M1469 343h7" stroke="#c2c2c2" stroke-width="0.6"/><path d="M1414 208v20" stroke="#c2c2c2" stroke-width="0.6"/><path d="M1133 455h9" stroke="#c2c2c2" stroke-width="0.6"/><path d="M1205 202v12" stroke="#c2c2c2" stroke-width="0.6"/><path d="M1048 209v17" stroke="#c2c2c2" stroke-width="0.6"/><path d="M1293 410v29" stroke="#c2c2c2" stroke-width="0.6"/><path d="M1320 260h10" stroke="#c2c2c2" stroke-width="0.6"/><path d="M983 350v10" stroke="#c2c2c2" stroke-width="0.6"/><path d="M1114 308v18" stroke="#c2c2c2" stroke-width="0.6"/><path d="M1285 444h25" stroke="#c2c2c2" stroke-width="0.6"/><path d="M1431 223v23" stroke="#c2c2c2" stroke-width="0.6"/><path d="M1043 344v28" stroke="#c2c2c2" stroke-width="0.6"/><path d="M1166 382v25" stroke="#c2c2c2" stroke-width="0.6"/><path d="M1450 347v11" stroke="#c2c2c2" stroke-width="0.6"/><path d="M1339 464v23" stroke="#c2c2c2" stroke-width="0.6"/><path d="M1468 517v25" stroke="#c2c2c2" stroke-width="0.6"/><path d="M1406 309h17" stroke="#c2c2c2" stroke-width="0.6"/><path d="M1253 448h7" stroke="#c2c2c2" stroke-width="0.6"/><path d="M1383 215v10" stroke="#c2c2c2" stroke-width="0.6"/><path d="M1146 454h10" stroke="#c2c2c2" stroke-width="0.6"/><path d="M1236 433v23" stroke="#c2c2c2" stroke-width="0.6"/><path d="M1451 357v8" stroke="#c2c2c2" stroke-width="0.6"/><path d="M1089 368h23" stroke="#c2c2c2" stroke-width="0.6"/><path d="M1297 367v19" stroke="#c2c2c2" stroke-width="0.6"/><path d="M1134 320v28" stroke="#c2c2c2" stroke-width="0.6"/><path d="M1462 367v11" stroke="#c2c2c2" stroke-width="0.6"/><path d="M1246 360v7" stroke="#c2c2c2" stroke-width="0.6"/><path d="M1463 364h25" stroke="#c2c2c2" stroke-width="0.6"/><path d="M1259 356v8" stroke="#c2c2c2" stroke-width="0.6"/><path d="M1247 331v28" stroke="#c2c2c2" stroke-width="0.6"/><path d="M1113 350h16" stroke="#c2c2c2" stroke-width="0.6"/><path d="M1386 491h14" stroke="#c2c2c2" stroke-width="0.6"/><path d="M1074 398v9" stroke="#c2c2c2" stroke-width="0.6"/><path d="M1368 202h11" stroke="#c2c2c2" stroke-width="0.6"/><path d="M1322 300h21" stroke="#c2c2c2" stroke-width="0.6"/><path d="M1030 435h18" stroke="#c2c2c2" stroke-width="0.6"/><path d="M1103 259v16" stroke="#c2c2c2" stroke-width="0.6"/><path d="M1166 330v10" stroke="#c2c2c2" stroke-width="0.6"/><path d="M1080 402v19" stroke="#c2c2c2" stroke-width="0.6"/><path d="M1404 396v12" stroke="#c2c2c2" stroke-width="0.6"/><path d="M1348 461v14" stroke="#c2c2c2" stroke-width="0.6"/><path d="M1422 238h23" stroke="#c2c2c2" stroke-width="0.6"/><path d="M1108 226v16" stroke="#c2c2c2" stroke-width="0.6"/><path d="M1373 236h22" stroke="#c2c2c2" stroke-width="0.6"/><path d="M987 260v28" stroke="#c2c2c2" stroke-width="0.6"/><path d="M1462 232v24" stroke="#c2c2c2" stroke-width="0.6"/><path d="M1229 420h8" stroke="#c2c2c2" stroke-width="0.6"/><path d="M1031 206v18" stroke="#c2c2c2" stroke-width="0.6"/><path d="M1262 242h11" stroke="#c2c2c2" stroke-width="0.6"/><path d="M1398 521v8" stroke="#c2c2c2" stroke-width="0.6"/><path d="M1209 446h17" stroke="#c2c2c2" stroke-width="0.6"/><path d="M1236 336v6" stroke="#c2c2c2" stroke-width="0.6"/><path d="M1329 473h17" stroke="#c2c2c2" stroke-width="0.6"/><path d="M1348 328h10" stroke="#c2c2c2" stroke-width="0.6"/><path d="M1234 199v25" stroke="#c2c2c2" stroke-width="0.6"/><path d="M1330 478v16" stroke="#c2c2c2" stroke-width="0.6"/><path d="M1278 360v25" stroke="#c2c2c2" stroke-width="0.6"/><path d="M1350 451v16" stroke="#c2c2c2" stroke-width="0.6"/><path d="M1426 484v24" stroke="#c2c2c2" stroke-width="0.6"/><path d="M1361 328v8" stroke="#c2c2c2" stroke-width="0.6"/><path d="M1149 349h15" stroke="#c2c2c2" stroke-width="0.6"/><path d="M1297 400h29" stroke="#c2c2c2" stroke-width="0.6"/><path d="M1311 305v20" stroke="#c2c2c2" stroke-width="0.6"/><path d="M1245 323v21" stroke="#c2c2c2" stroke-width="0.6"/><path d="M1329 445v7" stroke="#c2c2c2" stroke-width="0.6"/><path d="M1286 438h16" stroke="#c2c2c2" stroke-width="0.6"/><path d="M1003 258h8" stroke="#c2c2c2" stroke-width="0.6"/><path d="M1253 362v20" stroke="#c2c2c2" stroke-width="0.6"/><path d="M1476 405v8" stroke="#c2c2c2" stroke-width="0.6"/><path d="M1277 445h28" stroke="#c2c2c2" stroke-width="0.6"/><path d="M1058 350h18" stroke="#c2c2c2" stroke-width="0.6"/><path d="M1284 213v16" stroke="#c2c2c2" stroke-width="0.6"/><path d="M1241 391h13" stroke="#c2c2c2" stroke-width="0.6"/><path d="M1306 379h23" stroke="#c2c2c2" stroke-width="0.6"/><path d="M1126 199h7" stroke="#c2c2c2" stroke-width="0.6"/><path d="M1056 443h28" stroke="#c2c2c2" stroke-width="0.6"/><path d="M1352 211v29" stroke="#c2c2c2" stroke-width="0.6"/><path d="M1193 352v12" stroke="#c2c2c2" stroke-width="0.6"/><path d="M1240 503v17" stroke="#c2c2c2" stroke-width="0.6"/><path d="M1467 464v9" stroke="#c2c2c2" stroke-width="0.6"/><path d="M1290 344h7" stroke="#c2c2c2" stroke-width="0.6"/><path d="M1242 235h22" stroke="#c2c2c2" stroke-width="0.6"/><path d="M1206 281v16" stroke="#c2c2c2" stroke-width="0.6"/><path d="M1367 369v29" stroke="#c2c2c2" stroke-width="0.6"/><path d="M1345 273h27" stroke="#c2c2c2" stroke-width="0.6"/><path d="M1370 400h13" stroke="#c2c2c2" stroke-width="0.6"/><path d="M1321 380v21" stroke="#c2c2c2" stroke-width="0.6"/><path d="M1355 257h30" stroke="#c2c2c2" stroke-width="0.6"/><path d="M1436 484h7" stroke="#c2c2c2" stroke-width="0.6"/><path d="M1113 334v8" stroke="#c2c2c2" stroke-width="0.6"/><path d="M1249 218h22" stroke="#c2c2c2" stroke-width="0.6"/><path d="M1253 402h17" stroke="#c2c2c2" stroke-width="0.6"/><path d="M1083 307v26" stroke="#c2c2c2" stroke-width="0.6"/><path d="M1015 234v21" stroke="#c2c2c2" stroke-width="0.6"/><path d="M1362 264h12" stroke="#c2c2c2" stroke-width="0.6"/><path d="M1383 316v30" stroke="#c2c2c2" stroke-width="0.6"/><path d="M1141 375v28" stroke="#c2c2c2" stroke-width="0.6"/><path d="M1192 316h27" stroke="#c2c2c2" stroke-width="0.6"/><path d="M1017 221v18" stroke="#c2c2c2" stroke-width="0.6"/><path d="M1321 293v8" stroke="#c2c2c2" stroke-width="0.6"/><path d="M1085 412h13" stroke="#c2c2c2" stroke-width="0.6"/><path d="M1340 423h9" stroke="#c2c2c2" stroke-width="0.6"/><path d="M1157 434h9" stroke="#c2c2c2" stroke-width="0.6"/><path d="M1333 382v29" stroke="#c2c2c2" stroke-width="0.6"/><path d="M1435 339v13" stroke="#c2c2c2" stroke-width="0.6"/><path d="M1137 326v27" stroke="#c2c2c2" stroke-width="0.6"/><path d="M1102 313h15" stroke="#c2c2c2" stroke-width="0.6"/><path d="M1176 322h20" stroke="#c2c2c2" stroke-width="0.6"/><path d="M1377 372v20" stroke="#c2c2c2" stroke-width="0.6"/><path d="M1066 444v13" stroke="#c2c2c2" stroke-width="0.6"/><path d="M989 364v20" stroke="#c2c2c2" stroke-width="0.6"/><path d="M1461 409v8" stroke="#c2c2c2" stroke-width="0.6"/><path d="M1251 454h8" stroke="#c2c2c2" stroke-width="0.6"/><path d="M1347 491h21" stroke="#c2c2c2" stroke-width="0.6"/><path d="M1050 440v12" stroke="#c2c2c2" stroke-width="0.6"/><path d="M1088 447v24" stroke="#c2c2c2" stroke-width="0.6"/><path d="M1175 305v22" stroke="#c2c2c2" stroke-width="0.6"/><path d="M1225 371v23" stroke="#c2c2c2" stroke-width="0.6"/><path d="M1435 329v22" stroke="#c2c2c2" stroke-width="0.6"/><path d="M1405 460v27" stroke="#c2c2c2" stroke-width="0.6"/><path d="M1457 405v23" stroke="#c2c2c2" stroke-width="0.6"/><path d="M1379 333h10" stroke="#c2c2c2" stroke-width="0.6"/><path d="M1349 521h10" stroke="#c2c2c2" stroke-width="0.6"/><path d="M1080 334h29" stroke="#c2c2c2" stroke-width="0.6"/><path d="M1008 296h22" stroke="#c2c2c2" stroke-width="0.6"/><path d="M1366 253h17" stroke="#c2c2c2" stroke-width="0.6"/><path d="M1270 494h9" stroke="#c2c2c2" stroke-width="0.6"/><path d="M1070 266h23" stroke="#c2c2c2" stroke-width="0.6"/><path d="M1275 268h13" stroke="#c2c2c2" stroke-width="0.6"/><path d="M1064 444h19" stroke="#c2c2c2" stroke-width="0.6"/><path d="M1387 352h27" stroke="#c2c2c2" stroke-width="0.6"/><path d="M1435 307v29" stroke="#c2c2c2" stroke-width="0.6"/><path d="M1219 267h29" stroke="#c2c2c2" stroke-width="0.6"/><path d="M1379 321v18" stroke="#c2c2c2" stroke-width="0.6"/><path d="M1307 272h17" stroke="#c2c2c2" stroke-width="0.6"/><path d="M1164 457v21" stroke="#c2c2c2" stroke-width="0.6"/><path d="M1057 246h12" stroke="#c2c2c2" stroke-width="0.6"/><path d="M1413 364v30" stroke="#c2c2c2" stroke-width="0.6"/><path d="M1111 370h24" stroke="#c2c2c2" stroke-width="0.6"/><path d="M1401 465h12" stroke="#c2c2c2" stroke-width="0.6"/><path d="M1336 226h17" stroke="#c2c2c2" stroke-width="0.6"/><path d="M1456 388v13" stroke="#c2c2c2" stroke-width="0.6"/><path d="M1373 332v8" stroke="#c2c2c2" stroke-width="0.6"/><path d="M1391 263v19" stroke="#c2c2c2" stroke-width="0.6"/><path d="M1134 297h13" stroke="#c2c2c2" stroke-width="0.6"/><path d="M1212 430h22" stroke="#c2c2c2" stroke-width="0.6"/><path d="M1031 324h29" stroke="#c2c2c2" stroke-width="0.6"/><path d="M1393 410h15" stroke="#c2c2c2" stroke-width="0.6"/><path d="M1333 272v17" stroke="#c2c2c2" stroke-width="0.6"/><path d="M1378 262v13" stroke="#c2c2c2" stroke-width="0.6"/><path d="M1166 372h14" stroke="#c2c2c2" stroke-width="0.6"/><path d="M1174 414h11" stroke="#c2c2c2" stroke-width="0.6"/><path d="M1344 303v20" stroke="#c2c2c2" stroke-width="0.6"/><path d="M1340 303v8" stroke="#c2c2c2" stroke-width="0.6"/><path d="M1048 225v23" stroke="#c2c2c2" stroke-width="0.6"/><path d="M1068 327v20" stroke="#c2c2c2" stroke-width="0.6"/><path d="M1023 269h9" stroke="#c2c2c2" stroke-width="0.6"/><path d="M1181 218v16" stroke="#c2c2c2" stroke-width="0.6"/><path d="M1234 408v26" stroke="#c2c2c2" stroke-width="0.6"/><path d="M1171 303h6" stroke="#c2c2c2" stroke-width="0.6"/><path d="M1178 425v25" stroke="#c2c2c2" stroke-width="0.6"/><path d="M1308 395h14" stroke="#c2c2c2" stroke-width="0.6"/><path d="M1149 409h15" stroke="#c2c2c2" stroke-width="0.6"/><path d="M1233 454v21" stroke="#c2c2c2" stroke-width="0.6"/><path d="M1057 447v19" stroke="#c2c2c2" stroke-width="0.6"/><path d="M1154 359h23" stroke="#c2c2c2" stroke-width="0.6"/><path d="M1471 364v26" stroke="#c2c2c2" stroke-width="0.6"/><path d="M1292 259h12" stroke="#c2c2c2" stroke-width="0.6"/><path d="M1266 424h28" stroke="#c2c2c2" stroke-width="0.6"/><path d="M1159 347h29" stroke="#c2c2c2" stroke-width="0.6"/><path d="M1250 379v12" stroke="#c2c2c2" stroke-width="0.6"/><path d="M1433 521v20" stroke="#c2c2c2" stroke-width="0.6"/><path d="M1098 383v10" stroke="#c2c2c2" stroke-width="0.6"/><path d="M1252 219h10" stroke="#c2c2c2" stroke-width="0.6"/><path d="M1472 504v13" stroke="#c2c2c2" stroke-width="0.6"/><path d="M1314 437h20" stroke="#c2c2c2" stroke-width="0.6"/><path d="M1380 199h17" stroke="#c2c2c2" stroke-width="0.6"/><path d="M1049 322v10" stroke="#c2c2c2" stroke-width="0.6"/><path d="M1238 281v14" stroke="#c2c2c2" stroke-width="0.6"/><path d="M1299 206v9" stroke="#c2c2c2" stroke-width="0.6"/><path d="M1235.0 206.0 L1238.0 232.0" stroke="#c6c6c6" stroke-width="0.5"/><path d="M1240.2 206.2 L1243.2 232.4" stroke="#c6c6c6" stroke-width="0.5"/><path d="M1245.4 206.4 L1248.4 232.8" stroke="#c6c6c6" stroke-width="0.5"/><path d="M1250.6 206.6 L1253.6 233.2" stroke="#c6c6c6" stroke-width="0.5"/><path d="M1255.8 206.8 L1258.8 233.6" stroke="#c6c6c6" stroke-width="0.5"/><path d="M1261.0 207.0 L1264.0 234.0" stroke="#c6c6c6" stroke-width="0.5"/><path d="M1266.2 207.2 L1269.2 234.4" stroke="#c6c6c6" stroke-width="0.5"/><path d="M1271.4 207.4 L1274.4 234.8" stroke="#c6c6c6" stroke-width="0.5"/><path d="M1276.6 207.6 L1279.6 235.2" stroke="#c6c6c6" stroke-width="0.5"/><path d="M1281.8 207.8 L1284.8 235.6" stroke="#c6c6c6" stroke-width="0.5"/><path d="M1287.0 208.0 L1290.0 236.0" stroke="#c6c6c6" stroke-width="0.5"/><path d="M1292.2 208.2 L1295.2 236.4" stroke="#c6c6c6" stroke-width="0.5"/><path d="M1297.4 208.4 L1300.4 236.8" stroke="#c6c6c6" stroke-width="0.5"/><path d="M1302.6 208.6 L1305.6 237.2" stroke="#c6c6c6" stroke-width="0.5"/><path d="M1307.8 208.8 L1310.8 237.6" stroke="#c6c6c6" stroke-width="0.5"/><path d="M1313.0 209.0 L1316.0 238.0" stroke="#c6c6c6" stroke-width="0.5"/><path d="M1318.2 209.2 L1321.2 238.4" stroke="#c6c6c6" stroke-width="0.5"/><path d="M1323.4 209.4 L1326.4 238.8" stroke="#c6c6c6" stroke-width="0.5"/><path d="M1328.6 209.6 L1331.6 239.2" stroke="#c6c6c6" stroke-width="0.5"/><path d="M1333.8 209.8 L1336.8 239.6" stroke="#c6c6c6" stroke-width="0.5"/><path d="M1339.0 210.0 L1342.0 240.0" stroke="#c6c6c6" stroke-width="0.5"/><path d="M1344.2 210.2 L1347.2 240.4" stroke="#c6c6c6" stroke-width="0.5"/><path d="M1349.4 210.4 L1352.4 240.8" stroke="#c6c6c6" stroke-width="0.5"/><path d="M1354.6 210.6 L1357.6 241.2" stroke="#c6c6c6" stroke-width="0.5"/><path d="M1359.8 210.8 L1362.8 241.6" stroke="#c6c6c6" stroke-width="0.5"/><path d="M1365.0 211.0 L1368.0 242.0" stroke="#c6c6c6" stroke-width="0.5"/><path d="M1370.2 211.2 L1373.2 242.4" stroke="#c6c6c6" stroke-width="0.5"/><path d="M1375.4 211.4 L1378.4 242.8" stroke="#c6c6c6" stroke-width="0.5"/><path d="M1380.6 211.6 L1383.6 243.2" stroke="#c6c6c6" stroke-width="0.5"/><path d="M1385.8 211.8 L1388.8 243.6" stroke="#c6c6c6" stroke-width="0.5"/><path d="M1391.0 212.0 L1394.0 244.0" stroke="#c6c6c6" stroke-width="0.5"/><path d="M1396.2 212.2 L1399.2 244.4" stroke="#c6c6c6" stroke-width="0.5"/><path d="M1401.4 212.4 L1404.4 244.8" stroke="#c6c6c6" stroke-width="0.5"/><path d="M1406.6 212.6 L1409.6 245.2" stroke="#c6c6c6" stroke-width="0.5"/><path d="M1411.8 212.8 L1414.8 245.6" stroke="#c6c6c6" stroke-width="0.5"/><path d="M1417.0 213.0 L1420.0 246.0" stroke="#c6c6c6" stroke-width="0.5"/><path d="M1422.2 213.2 L1425.2 246.4" stroke="#c6c6c6" stroke-width="0.5"/><path d="M1427.4 213.4 L1430.4 246.8" stroke="#c6c6c6" stroke-width="0.5"/><path d="M1432.6 213.6 L1435.6 247.2" stroke="#c6c6c6" stroke-width="0.5"/><path d="M1437.8 213.8 L1440.8 247.6" stroke="#c6c6c6" stroke-width="0.5"/><path d="M1235 232 L1445 248 M1235 262 L1445 272" stroke="#b0b0b0" stroke-width="0.7"/></g>
</svg>
<svg class="abs" style="left:1142px;top:219px" width="20" height="31" viewBox="0 0 20 31"><path d="M10 0.6C4.8 0.6 0.8 4.5 0.8 9.5c0 6.3 9.2 20.9 9.2 20.9s9.2-14.6 9.2-20.9C19.2 4.5 15.2 0.6 10 0.6z" fill="#ea4335" stroke="#b93227" stroke-width="0.8"/><circle cx="10" cy="9.3" r="3.1" fill="#8c1c13"/></svg>
<svg class="abs" style="left:1080px;top:192px" width="20" height="31" viewBox="0 0 20 31"><path d="M10 0.6C4.8 0.6 0.8 4.5 0.8 9.5c0 6.3 9.2 20.9 9.2 20.9s9.2-14.6 9.2-20.9C19.2 4.5 15.2 0.6 10 0.6z" fill="#ea4335" stroke="#b93227" stroke-width="0.8"/><circle cx="10" cy="9.3" r="3.1" fill="#8c1c13"/></svg>
<div class="abs ylab" style="left:1091px;top:228px;width:73px;height:19px;padding-left:4px;line-height:19px">Site Entrance</div>
<svg class="abs" style="left:1208px;top:221px" width="20" height="31" viewBox="0 0 20 31"><path d="M10 0.6C4.8 0.6 0.8 4.5 0.8 9.5c0 6.3 9.2 20.9 9.2 20.9s9.2-14.6 9.2-20.9C19.2 4.5 15.2 0.6 10 0.6z" fill="#ea4335" stroke="#b93227" stroke-width="0.8"/><circle cx="10" cy="9.3" r="3.1" fill="#8c1c13"/></svg>
<div class="abs ylab" style="left:1153px;top:254px;width:69px;height:20px;padding-left:4px;line-height:20px">Equipment L</div>
<div class="abs ylab" style="left:1218px;top:254px;width:52px;height:20px;padding-left:4px;line-height:20px">Fuel skid</div>
<svg class="abs" style="left:1149px;top:251px" width="36" height="36" viewBox="0 0 36 36"><circle cx="18" cy="18" r="16" fill="none" stroke="#6fb3f7" stroke-width="2" opacity="0.35" stroke-dasharray="7 3"/><circle cx="18" cy="18" r="12.8" fill="none" stroke="#5aa6f5" stroke-width="2.2" opacity="0.6"/><path d="M9 12 A11 11 0 0 1 27 12" fill="none" stroke="#8fd16a" stroke-width="3" opacity="0.8"/><circle cx="18" cy="18" r="9.5" fill="#2b8bf0"/><text x="18" y="21.3" text-anchor="middle" font-family="Liberation Sans" font-size="9.5" font-weight="bold" fill="#0b2a55">2</text></svg>
<svg class="abs" style="left:1179px;top:271px" width="20" height="31" viewBox="0 0 20 31"><path d="M10 0.6C4.8 0.6 0.8 4.5 0.8 9.5c0 6.3 9.2 20.9 9.2 20.9s9.2-14.6 9.2-20.9C19.2 4.5 15.2 0.6 10 0.6z" fill="#ea4335" stroke="#b93227" stroke-width="0.8"/><circle cx="10" cy="9.3" r="3.1" fill="#8c1c13"/></svg>
<svg class="abs" style="left:1198px;top:271px" width="20" height="31" viewBox="0 0 20 31"><path d="M10 0.6C4.8 0.6 0.8 4.5 0.8 9.5c0 6.3 9.2 20.9 9.2 20.9s9.2-14.6 9.2-20.9C19.2 4.5 15.2 0.6 10 0.6z" fill="#ea4335" stroke="#b93227" stroke-width="0.8"/><circle cx="10" cy="9.3" r="3.1" fill="#8c1c13"/></svg>
<div class="abs ylab" style="left:1207px;top:301px;width:81px;height:21px;padding-left:4px;line-height:21px">Job shack #89</div>
<div class="abs ylab" style="left:1189px;top:301px;width:49px;height:21px;padding-left:5px;line-height:21px">Toilet #1</div>
<svg class="abs" style="left:1330px;top:276px" width="20" height="31" viewBox="0 0 20 31"><path d="M10 0.6C4.8 0.6 0.8 4.5 0.8 9.5c0 6.3 9.2 20.9 9.2 20.9s9.2-14.6 9.2-20.9C19.2 4.5 15.2 0.6 10 0.6z" fill="#ea4335" stroke="#b93227" stroke-width="0.8"/><circle cx="10" cy="9.3" r="3.1" fill="#8c1c13"/></svg>
<div class="abs ylab" style="left:1340px;top:310px;width:134px;height:21px;padding-left:6px;line-height:21px">Dawson Landing Phase 3</div>
<svg class="abs" style="left:1325px;top:351px" width="20" height="31" viewBox="0 0 20 31"><path d="M10 0.6C4.8 0.6 0.8 4.5 0.8 9.5c0 6.3 9.2 20.9 9.2 20.9s9.2-14.6 9.2-20.9C19.2 4.5 15.2 0.6 10 0.6z" fill="#ea4335" stroke="#b93227" stroke-width="0.8"/><circle cx="10" cy="9.3" r="3.1" fill="#8c1c13"/></svg>
<div class="abs ylab" style="left:1337px;top:385px;width:75px;height:21px;padding-left:4px;line-height:21px">Bedding Sand</div>
<svg class="abs" style="left:1376px;top:395px" width="36" height="36" viewBox="0 0 36 36"><circle cx="18" cy="18" r="16" fill="none" stroke="#6fb3f7" stroke-width="2" opacity="0.35" stroke-dasharray="7 3"/><circle cx="18" cy="18" r="12.8" fill="none" stroke="#5aa6f5" stroke-width="2.2" opacity="0.6"/><path d="M9 12 A11 11 0 0 1 27 12" fill="none" stroke="#8fd16a" stroke-width="3" opacity="0.8"/><circle cx="18" cy="18" r="9.5" fill="#2b8bf0"/><text x="18" y="21.3" text-anchor="middle" font-family="Liberation Sans" font-size="9.5" font-weight="bold" fill="#0b2a55">4</text></svg>
<svg class="abs" style="left:1410px;top:378px" width="20" height="31" viewBox="0 0 20 31"><path d="M10 0.6C4.8 0.6 0.8 4.5 0.8 9.5c0 6.3 9.2 20.9 9.2 20.9s9.2-14.6 9.2-20.9C19.2 4.5 15.2 0.6 10 0.6z" fill="#ea4335" stroke="#b93227" stroke-width="0.8"/><circle cx="10" cy="9.3" r="3.1" fill="#8c1c13"/></svg>
<div class="abs ylab" style="left:1420px;top:412px;width:68px;height:22px;padding-left:5px;line-height:22px">Garbage bin</div>
<svg class="abs" style="left:1146px;top:407px" width="36" height="36" viewBox="0 0 36 36"><circle cx="18" cy="18" r="16" fill="none" stroke="#6fb3f7" stroke-width="2" opacity="0.35" stroke-dasharray="7 3"/><circle cx="18" cy="18" r="12.8" fill="none" stroke="#5aa6f5" stroke-width="2.2" opacity="0.6"/><circle cx="18" cy="18" r="9.5" fill="#2b8bf0"/><text x="18" y="21.3" text-anchor="middle" font-family="Liberation Sans" font-size="9.5" font-weight="bold" fill="#0b2a55">2</text></svg>
<div class="abs" style="left:1470px;top:395px;width:16px;height:16px;border-radius:50%;background:#c9c9f0;border:2px solid #e8e8fa"></div>
<div class="abs" style="left:859px;top:148px;width:135px;height:31px;background:#fff;border-radius:2px;box-shadow:0 1px 3px rgba(0,0,0,.25)"></div>
<div class="abs" style="left:915px;top:148px;width:1px;height:31px;background:#ebebeb"></div>
<div class="abs" style="left:873px;top:154px;font-size:15px;color:#000;-webkit-text-stroke:0.3px #000">Map</div>
<div class="abs" style="left:928px;top:154px;font-size:14.5px;color:#565656">Satellite</div>
<div class="abs" style="left:1608px;top:420px;width:32px;height:32px;background:#fff;border-radius:2px;box-shadow:0 1px 3px rgba(0,0,0,.2)"></div>
<svg class="abs" style="left:1616px;top:423px" width="16" height="26" viewBox="0 0 16 26"><circle cx="8" cy="4" r="3.6" fill="#f2b21b"/><path d="M3 9h10l1 9h-2.5l-.5 7H5l-.5-7H2z" fill="#f2b21b"/><path d="M8 10v15" stroke="#d28e0b" stroke-width="0.8"/></svg>
<div class="abs" style="left:1608px;top:479px;width:32px;height:64px;background:#fff;border-radius:2px;box-shadow:0 1px 3px rgba(0,0,0,.2)"></div>
<div class="abs" style="left:1614px;top:511px;width:20px;height:1px;background:#e6e6e6"></div>
<div class="abs" style="left:1617px;top:493px;width:14px;height:2.5px;background:#666"></div>
<div class="abs" style="left:1622.7px;top:487.5px;width:2.5px;height:14px;background:#666"></div>
<div class="abs" style="left:1617px;top:526px;width:14px;height:2.5px;background:#666"></div>
<div class="abs" style="left:856px;top:541px;font-size:16px;letter-spacing:-0.2px;white-space:nowrap;line-height:20px;-webkit-text-stroke:0.35px currentColor;text-shadow:0 0 2px #fff"><span style="color:#6d8fd6">G</span><span style="color:#d8786e">o</span><span style="color:#ecc75a">o</span><span style="color:#6d8fd6">g</span><span style="color:#69b27c">l</span><span style="color:#d8786e">e</span></div>
<div class="abs" style="left:1338px;top:549px;width:310px;height:15px;background:rgba(245,245,245,.75)"></div>
<div class="abs" style="left:1343px;top:551px;font-size:7.6px;color:#333;white-space:nowrap;letter-spacing:-0.1px">Keyboard shortcuts</div>
<div class="abs" style="left:1422px;top:551px;font-size:7.6px;color:#333;white-space:nowrap;letter-spacing:-0.1px">Map data ©2021 Google</div>
<div class="abs" style="left:1519px;top:551px;font-size:7.6px;color:#333;white-space:nowrap;letter-spacing:-0.1px">Terms of Use</div>
<div class="abs" style="left:1576px;top:551px;font-size:7.6px;color:#333;white-space:nowrap;letter-spacing:-0.1px">Report a map error</div>
<svg class="abs" style="left:1602px;top:293px" width="13" height="20" viewBox="0 0 13 20"><path d="M1 1v15l3.5-3.5 2.5 6 2-1-2.5-5.5H11z" fill="#fff" stroke="#222" stroke-width="1"/></svg>
</div>
<div class="abs" style="left:1648px;top:139px;width:241px;height:425px;background:#fff;border-radius:0 6px 6px 0"></div>
<div class="abs" style="left:1654px;top:145px;width:26px;height:26px;background:#31b2bd;border-radius:3px"></div>
<svg class="abs" style="left:1661.5px;top:152.5px" width="11" height="11" viewBox="0 0 11 11" fill="none" stroke="#c8f0f2" stroke-width="1.4"><path d="M0.8 3.8V0.8h3M7.2 0.8h3v3M10.2 7.2v3h-3M3.8 10.2h-3v-3"/></svg>
<div class="abs" style="left:1655px;top:188px;width:12px;height:12px;border-radius:50%;border:1px solid #ccc;background:#fff"></div>
<div class="abs" style="left:1658px;top:191px;width:6px;height:6px;border-radius:50%;background:#31b2bd"></div>
<div class="abs" style="left:1674px;top:187px;font-size:11px;color:#666">Objects</div>
<div class="abs" style="left:1726px;top:188px;width:12px;height:12px;border-radius:50%;border:1px solid #ccc;background:#fff"></div>
<div class="abs" style="left:1745px;top:187px;font-size:11px;color:#666">Layers</div>
<div class="abs" style="left:1648px;top:208px;width:241px;height:316px;overflow:hidden">
<div class="abs" style="left:0;top:0.8px;width:226px;height:42px;background:#fff;border:1px solid #eee;border-left:none"></div>
<div class="abs" style="left:0;top:0.8px;width:5px;height:42px;background:#31b2bd"></div>
<div class="abs" style="left:13px;top:6.8px;font-size:11px;font-weight:bold;color:#666;white-space:nowrap">Service C-Can</div>
<div class="abs" style="left:13px;top:23.8px;font-size:11px;color:#777">Other</div>
<svg class="abs" style="left:202px;top:18.8px" width="14" height="9" viewBox="0 0 14 9" fill="none" stroke="#d2d2d2" stroke-width="1"><path d="M1 4.5C3 1.5 5 0.8 7 0.8s4 .7 6 3.7C11 7.5 9 8.2 7 8.2S3 7.5 1 4.5z"/><circle cx="7" cy="4.5" r="2"/></svg>
<div class="abs" style="left:0;top:44.4px;width:226px;height:42px;background:#fff;border:1px solid #eee;border-left:none"></div>
<div class="abs" style="left:0;top:44.4px;width:5px;height:42px;background:#31b2bd"></div>
<div class="abs" style="left:13px;top:50.4px;font-size:11px;font-weight:bold;color:#666;white-space:nowrap">Equipment Laydown</div>
<div class="abs" style="left:13px;top:67.4px;font-size:11px;color:#777">Other</div>
<svg class="abs" style="left:202px;top:62.4px" width="14" height="9" viewBox="0 0 14 9" fill="none" stroke="#d2d2d2" stroke-width="1"><path d="M1 4.5C3 1.5 5 0.8 7 0.8s4 .7 6 3.7C11 7.5 9 8.2 7 8.2S3 7.5 1 4.5z"/><circle cx="7" cy="4.5" r="2"/></svg>
<div class="abs" style="left:0;top:88.0px;width:226px;height:42px;background:#fff;border:1px solid #eee;border-left:none"></div>
<div class="abs" style="left:0;top:88.0px;width:5px;height:42px;background:#31b2bd"></div>
<div class="abs" style="left:13px;top:94.0px;font-size:11px;font-weight:bold;color:#666;white-space:nowrap">Material Laydown</div>
<div class="abs" style="left:13px;top:111.0px;font-size:11px;color:#777">Other</div>
<svg class="abs" style="left:202px;top:106.0px" width="14" height="9" viewBox="0 0 14 9" fill="none" stroke="#d2d2d2" stroke-width="1"><path d="M1 4.5C3 1.5 5 0.8 7 0.8s4 .7 6 3.7C11 7.5 9 8.2 7 8.2S3 7.5 1 4.5z"/><circle cx="7" cy="4.5" r="2"/></svg>
<div class="abs" style="left:0;top:131.6px;width:226px;height:42px;background:#fff;border:1px solid #eee;border-left:none"></div>
<div class="abs" style="left:0;top:131.6px;width:5px;height:42px;background:#31b2bd"></div>
<div class="abs" style="left:13px;top:137.6px;font-size:11px;font-weight:bold;color:#666;white-space:nowrap">40mm Gravel Pile #1</div>
<div class="abs" style="left:13px;top:154.6px;font-size:11px;color:#777">Other</div>
<svg class="abs" style="left:202px;top:149.6px" width="14" height="9" viewBox="0 0 14 9" fill="none" stroke="#d2d2d2" stroke-width="1"><path d="M1 4.5C3 1.5 5 0.8 7 0.8s4 .7 6 3.7C11 7.5 9 8.2 7 8.2S3 7.5 1 4.5z"/><circle cx="7" cy="4.5" r="2"/></svg>
<div class="abs" style="left:0;top:175.2px;width:226px;height:42px;background:#fff;border:1px solid #eee;border-left:none"></div>
<div class="abs" style="left:0;top:175.2px;width:5px;height:42px;background:#31b2bd"></div>
<div class="abs" style="left:13px;top:181.2px;font-size:11px;font-weight:bold;color:#666;white-space:nowrap">Job shack #12</div>
<div class="abs" style="left:13px;top:198.2px;font-size:11px;color:#777">Other</div>
<svg class="abs" style="left:202px;top:193.2px" width="14" height="9" viewBox="0 0 14 9" fill="none" stroke="#d2d2d2" stroke-width="1"><path d="M1 4.5C3 1.5 5 0.8 7 0.8s4 .7 6 3.7C11 7.5 9 8.2 7 8.2S3 7.5 1 4.5z"/><circle cx="7" cy="4.5" r="2"/></svg>
<div class="abs" style="left:0;top:218.8px;width:226px;height:42px;background:#fff;border:1px solid #eee;border-left:none"></div>
<div class="abs" style="left:0;top:218.8px;width:5px;height:42px;background:#31b2bd"></div>
<div class="abs" style="left:13px;top:224.8px;font-size:11px;font-weight:bold;color:#666;white-space:nowrap">Job shack #89</div>
<div class="abs" style="left:13px;top:241.8px;font-size:11px;color:#777">Other</div>
<svg class="abs" style="left:202px;top:236.8px" width="14" height="9" viewBox="0 0 14 9" fill="none" stroke="#d2d2d2" stroke-width="1"><path d="M1 4.5C3 1.5 5 0.8 7 0.8s4 .7 6 3.7C11 7.5 9 8.2 7 8.2S3 7.5 1 4.5z"/><circle cx="7" cy="4.5" r="2"/></svg>
<div class="abs" style="left:0;top:262.4px;width:226px;height:42px;background:#fff;border:1px solid #eee;border-left:none"></div>
<div class="abs" style="left:0;top:262.4px;width:5px;height:42px;background:#31b2bd"></div>
<div class="abs" style="left:13px;top:268.4px;font-size:11px;font-weight:bold;color:#666;white-space:nowrap">Garbage bin</div>
<div class="abs" style="left:13px;top:285.4px;font-size:11px;color:#777">Other</div>
<svg class="abs" style="left:202px;top:280.4px" width="14" height="9" viewBox="0 0 14 9" fill="none" stroke="#d2d2d2" stroke-width="1"><path d="M1 4.5C3 1.5 5 0.8 7 0.8s4 .7 6 3.7C11 7.5 9 8.2 7 8.2S3 7.5 1 4.5z"/><circle cx="7" cy="4.5" r="2"/></svg>
<div class="abs" style="left:0;top:306.0px;width:226px;height:42px;background:#fff;border:1px solid #eee;border-left:none"></div>
<div class="abs" style="left:0;top:306.0px;width:5px;height:42px;background:#31b2bd"></div>
<div class="abs" style="left:13px;top:312.0px;font-size:11px;font-weight:bold;color:#666;white-space:nowrap">16mm Gravel Pile #2</div>
<div class="abs" style="left:13px;top:329.0px;font-size:11px;color:#777">Other</div>
<svg class="abs" style="left:202px;top:324.0px" width="14" height="9" viewBox="0 0 14 9" fill="none" stroke="#d2d2d2" stroke-width="1"><path d="M1 4.5C3 1.5 5 0.8 7 0.8s4 .7 6 3.7C11 7.5 9 8.2 7 8.2S3 7.5 1 4.5z"/><circle cx="7" cy="4.5" r="2"/></svg>
</div>
<div class="abs" style="left:1876px;top:208px;width:12px;height:315px;background:#f1f1f1"></div>
<div class="abs" style="left:1876px;top:208px;width:12px;height:152px;background:#31b2bd;border-radius:6px"></div>
<div class="abs" style="left:1654px;top:530px;width:26px;height:26px;background:#31b2bd;border-radius:3px"></div>
<svg class="abs" style="left:1661.5px;top:537.5px" width="11" height="11" viewBox="0 0 11 11" fill="none" stroke="#c8f0f2" stroke-width="1.4"><path d="M0.8 3.8V0.8h3M7.2 0.8h3v3M10.2 7.2v3h-3M3.8 10.2h-3v-3"/></svg>
<!-- key roles card -->
<div class="card" style="left:99px;top:583px;width:1790px;height:360px"></div>
<div class="abs" style="left:80px;top:893px;width:1838px;height:41px;background:linear-gradient(rgba(255,255,255,0),rgba(232,232,232,.95))"></div>
<div class="abs" style="left:120px;top:603px;font-size:22px;font-weight:bold;color:#262626;letter-spacing:0.2px">Key Roles</div>
<div class="btn" style="left:1725px;top:609px;width:144px;font-size:10.8px">ASSIGN A KEY PERSON</div>
<div class="abs" style="left:119px;top:654px;width:1750px;height:29px;background:#e6e6e6"></div>
<div class="abs" style="left:126px;top:662px;font-size:11.8px;font-weight:bold;color:#222">Roles</div>
<div class="abs" style="left:633px;top:662px;font-size:11.8px;font-weight:bold;color:#222">Internal Team Members</div>
<div class="abs" style="left:1143px;top:662px;font-size:11.8px;font-weight:bold;color:#222">External Team Members</div>
<div class="abs" style="left:119px;top:691px;width:1750px;height:2px;background:#ececec"></div>
<div class="abs" style="left:123px;top:701px;font-size:11.6px;color:#333;white-space:nowrap">Compaction Foreman</div>
<div class="abs" style="left:633px;top:701px;font-size:11.4px;color:#333;white-space:nowrap"><svg width="10" height="12" viewBox="0 0 10 12" style="display:inline-block;vertical-align:-1px;margin-right:2px" fill="none" stroke="#444" stroke-width="1.1"><circle cx="5" cy="3.6" r="2.8"/><path d="M0.8 11.5c0-3 1.8-4.6 4.2-4.6s4.2 1.6 4.2 4.6z"/></svg>Brian Lasalle</div>
<div class="abs" style="left:1143px;top:701px;font-size:11.1px;font-style:italic;color:#c6c6c6;white-space:nowrap">No external team members assigned</div>
<svg class="abs" style="left:1820px;top:703px" width="13" height="13" viewBox="0 0 13 13" fill="none" stroke="#c8c8c8" stroke-width="1"><path d="M2.5 9.5l.8-2.6 5.5-5.5 1.8 1.8-5.5 5.5z"/><path d="M1 12.3h10"/></svg>
<svg class="abs" style="left:1847px;top:703px" width="11" height="13" viewBox="0 0 11 13" fill="none" stroke="#c8c8c8" stroke-width="1"><path d="M1.5 3h8v9.3h-8z"/><path d="M0.5 2.5h10M3.5 1h4"/></svg>
<div class="abs" style="left:119px;top:725px;width:1750px;height:2px;background:#ececec"></div>
<div class="abs" style="left:123px;top:735px;font-size:11.6px;color:#333;white-space:nowrap">Developer</div>
<div class="abs" style="left:633px;top:735px;font-size:11.1px;font-style:italic;color:#c6c6c6;white-space:nowrap">No internal team members assigned</div>
<div class="abs" style="left:1143px;top:735px;font-size:11.4px;color:#333;white-space:nowrap"><svg width="10" height="12" viewBox="0 0 10 12" style="display:inline-block;vertical-align:-1px;margin-right:2px" fill="none" stroke="#444" stroke-width="1.1"><circle cx="5" cy="3.6" r="2.8"/><path d="M0.8 11.5c0-3 1.8-4.6 4.2-4.6s4.2 1.6 4.2 4.6z"/></svg>Joanne Voll</div>
<svg class="abs" style="left:1820px;top:737px" width="13" height="13" viewBox="0 0 13 13" fill="none" stroke="#c8c8c8" stroke-width="1"><path d="M2.5 9.5l.8-2.6 5.5-5.5 1.8 1.8-5.5 5.5z"/><path d="M1 12.3h10"/></svg>
<svg class="abs" style="left:1847px;top:737px" width="11" height="13" viewBox="0 0 11 13" fill="none" stroke="#c8c8c8" stroke-width="1"><path d="M1.5 3h8v9.3h-8z"/><path d="M0.5 2.5h10M3.5 1h4"/></svg>
<div class="abs" style="left:119px;top:759px;width:1750px;height:2px;background:#ececec"></div>
<div class="abs" style="left:123px;top:769px;font-size:11.6px;color:#333;white-space:nowrap">Engineering Consultant</div>
<div class="abs" style="left:633px;top:769px;font-size:11.1px;font-style:italic;color:#c6c6c6;white-space:nowrap">No internal team members assigned</div>
<div class="abs" style="left:1143px;top:769px;font-size:11.4px;color:#333;white-space:nowrap"><svg width="10" height="12" viewBox="0 0 10 12" style="display:inline-block;vertical-align:-1px;margin-right:2px" fill="none" stroke="#444" stroke-width="1.1"><circle cx="5" cy="3.6" r="2.8"/><path d="M0.8 11.5c0-3 1.8-4.6 4.2-4.6s4.2 1.6 4.2 4.6z"/></svg>Sarah Light</div>
<svg class="abs" style="left:1820px;top:771px" width="13" height="13" viewBox="0 0 13 13" fill="none" stroke="#c8c8c8" stroke-width="1"><path d="M2.5 9.5l.8-2.6 5.5-5.5 1.8 1.8-5.5 5.5z"/><path d="M1 12.3h10"/></svg>
<svg class="abs" style="left:1847px;top:771px" width="11" height="13" viewBox="0 0 11 13" fill="none" stroke="#c8c8c8" stroke-width="1"><path d="M1.5 3h8v9.3h-8z"/><path d="M0.5 2.5h10M3.5 1h4"/></svg>
<div class="abs" style="left:119px;top:793px;width:1750px;height:2px;background:#ececec"></div>
<div class="abs" style="left:123px;top:803px;font-size:11.6px;color:#333;white-space:nowrap">Field Superintendent</div>
<div class="abs" style="left:633px;top:803px;font-size:11.4px;color:#333;white-space:nowrap"><svg width="10" height="12" viewBox="0 0 10 12" style="display:inline-block;vertical-align:-1px;margin-right:2px" fill="none" stroke="#444" stroke-width="1.1"><circle cx="5" cy="3.6" r="2.8"/><path d="M0.8 11.5c0-3 1.8-4.6 4.2-4.6s4.2 1.6 4.2 4.6z"/></svg>Nasser Jr Borhot</div>
<div class="abs" style="left:1143px;top:803px;font-size:11.1px;font-style:italic;color:#c6c6c6;white-space:nowrap">No external team members assigned</div>
<svg class="abs" style="left:1820px;top:805px" width="13" height="13" viewBox="0 0 13 13" fill="none" stroke="#c8c8c8" stroke-width="1"><path d="M2.5 9.5l.8-2.6 5.5-5.5 1.8 1.8-5.5 5.5z"/><path d="M1 12.3h10"/></svg>
<svg class="abs" style="left:1847px;top:805px" width="11" height="13" viewBox="0 0 11 13" fill="none" stroke="#c8c8c8" stroke-width="1"><path d="M1.5 3h8v9.3h-8z"/><path d="M0.5 2.5h10M3.5 1h4"/></svg>
<div class="abs" style="left:119px;top:827px;width:1750px;height:2px;background:#ececec"></div>
<div class="abs" style="left:123px;top:837px;font-size:11.6px;color:#333;white-space:nowrap">Foreman</div>
<div class="abs" style="left:633px;top:837px;font-size:11.4px;color:#333;white-space:nowrap"><svg width="10" height="12" viewBox="0 0 10 12" style="display:inline-block;vertical-align:-1px;margin-right:2px" fill="none" stroke="#444" stroke-width="1.1"><circle cx="5" cy="3.6" r="2.8"/><path d="M0.8 11.5c0-3 1.8-4.6 4.2-4.6s4.2 1.6 4.2 4.6z"/></svg>Nazih Elmeis</div>
<div class="abs" style="left:1143px;top:837px;font-size:11.1px;font-style:italic;color:#c6c6c6;white-space:nowrap">No external team members assigned</div>
<svg class="abs" style="left:1820px;top:839px" width="13" height="13" viewBox="0 0 13 13" fill="none" stroke="#c8c8c8" stroke-width="1"><path d="M2.5 9.5l.8-2.6 5.5-5.5 1.8 1.8-5.5 5.5z"/><path d="M1 12.3h10"/></svg>
<svg class="abs" style="left:1847px;top:839px" width="11" height="13" viewBox="0 0 11 13" fill="none" stroke="#c8c8c8" stroke-width="1"><path d="M1.5 3h8v9.3h-8z"/><path d="M0.5 2.5h10M3.5 1h4"/></svg>
<div class="abs" style="left:119px;top:861px;width:1750px;height:2px;background:#ececec"></div>
<div class="abs" style="left:123px;top:871px;font-size:11.6px;color:#333;white-space:nowrap">Project Manager</div>
<div class="abs" style="left:633px;top:871px;font-size:11.4px;color:#333;white-space:nowrap"><svg width="10" height="12" viewBox="0 0 10 12" style="display:inline-block;vertical-align:-1px;margin-right:2px" fill="none" stroke="#444" stroke-width="1.1"><circle cx="5" cy="3.6" r="2.8"/><path d="M0.8 11.5c0-3 1.8-4.6 4.2-4.6s4.2 1.6 4.2 4.6z"/></svg>Kirk Borger</div>
<div class="abs" style="left:1143px;top:871px;font-size:11.1px;font-style:italic;color:#c6c6c6;white-space:nowrap">No external team members assigned</div>
<svg class="abs" style="left:1820px;top:873px" width="13" height="13" viewBox="0 0 13 13" fill="none" stroke="#c8c8c8" stroke-width="1"><path d="M2.5 9.5l.8-2.6 5.5-5.5 1.8 1.8-5.5 5.5z"/><path d="M1 12.3h10"/></svg>
<svg class="abs" style="left:1847px;top:873px" width="11" height="13" viewBox="0 0 11 13" fill="none" stroke="#c8c8c8" stroke-width="1"><path d="M1.5 3h8v9.3h-8z"/><path d="M0.5 2.5h10M3.5 1h4"/></svg>
<div class="abs" style="left:119px;top:895px;width:1750px;height:2px;background:#ececec"></div>
<div class="abs" style="left:123px;top:905px;font-size:11.6px;color:#333;white-space:nowrap">Second Foreman</div>
<div class="abs" style="left:633px;top:905px;font-size:11.4px;color:#333;white-space:nowrap"><svg width="10" height="12" viewBox="0 0 10 12" style="display:inline-block;vertical-align:-1px;margin-right:2px" fill="none" stroke="#444" stroke-width="1.1"><circle cx="5" cy="3.6" r="2.8"/><path d="M0.8 11.5c0-3 1.8-4.6 4.2-4.6s4.2 1.6 4.2 4.6z"/></svg>Lebnan Hammoud</div>
<div class="abs" style="left:1143px;top:905px;font-size:11.1px;font-style:italic;color:#c6c6c6;white-space:nowrap">No external team members assigned</div>
<svg class="abs" style="left:1820px;top:907px" width="13" height="13" viewBox="0 0 13 13" fill="none" stroke="#c8c8c8" stroke-width="1"><path d="M2.5 9.5l.8-2.6 5.5-5.5 1.8 1.8-5.5 5.5z"/><path d="M1 12.3h10"/></svg>
<svg class="abs" style="left:1847px;top:907px" width="11" height="13" viewBox="0 0 11 13" fill="none" stroke="#c8c8c8" stroke-width="1"><path d="M1.5 3h8v9.3h-8z"/><path d="M0.5 2.5h10M3.5 1h4"/></svg>


<!-- page scrollbar -->
<div class="abs" style="left:1895px;top:112px;width:12px;height:815px;background:#ececec;border-radius:6px;opacity:.6"></div>
<div class="abs" style="left:1895px;top:119px;width:12px;height:205px;background:#31b2bd;border-radius:6px"></div>
<div class="abs" style="left:1918px;top:48px;width:1.5px;height:888px;background:#d6d6d6"></div>
<div class="abs" style="left:1920px;top:0;width:2px;height:933px;background:#fbfbfb"></div>
<!-- bottom fade -->
<div class="abs" style="left:0;top:933px;width:1922px;height:3px;background:#1d1b26"></div>

</body></html>
